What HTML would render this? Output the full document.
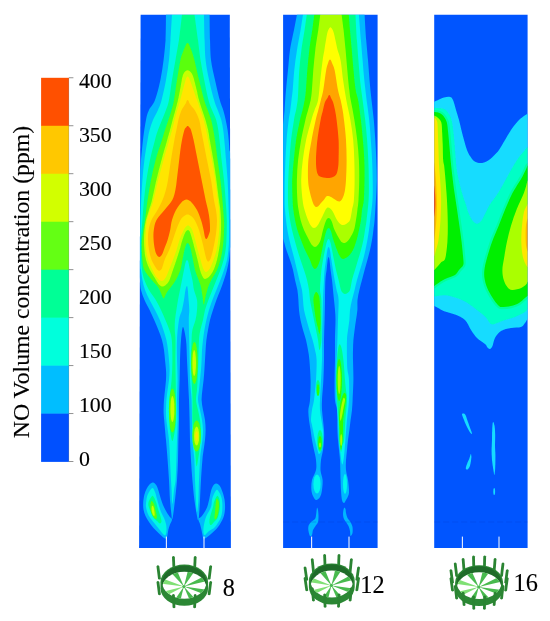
<!DOCTYPE html>
<html><head><meta charset="utf-8"><title>NO Volume concentration</title>
<style>
html,body{margin:0;padding:0;background:#fff;}
body{width:550px;height:621px;overflow:hidden;}
svg{display:block;}
text{font-family:"Liberation Serif","Times New Roman",serif;fill:#000;stroke:#000;stroke-width:0.12px;}
</style></head><body>
<svg width="550" height="621" viewBox="0 0 550 621">
<defs>
<clipPath id="c1"><polygon points="140.6,14.7 229.8,14.7 230.9,548.0 139.1,548.0"/></clipPath>
<clipPath id="c2"><rect x="283.1" y="14.7" width="94.5" height="533.3"/></clipPath>
<clipPath id="c3"><rect x="434.2" y="14.7" width="93.40000000000003" height="533.3"/></clipPath>
<filter id="bl" x="-5%" y="-5%" width="110%" height="110%"><feGaussianBlur stdDeviation="0.45"/></filter>
</defs>
<rect width="550" height="621" fill="#fff"/>

<g>
<rect x="41.1" y="77.80" width="27.8" height="48.27" fill="#ff5000"/>
<rect x="41.1" y="125.78" width="27.8" height="48.27" fill="#ffc800"/>
<rect x="41.1" y="173.75" width="27.8" height="48.27" fill="#d2ff00"/>
<rect x="41.1" y="221.73" width="27.8" height="48.27" fill="#64ff14"/>
<rect x="41.1" y="269.70" width="27.8" height="48.27" fill="#00ff96"/>
<rect x="41.1" y="317.68" width="27.8" height="48.27" fill="#00ffdc"/>
<rect x="41.1" y="365.65" width="27.8" height="48.27" fill="#00beff"/>
<rect x="41.1" y="413.62" width="27.8" height="48.27" fill="#0050ff"/>
<rect x="68.9" y="77.40" width="4.5" height="0.8" fill="#777"/>
<rect x="68.9" y="125.38" width="4.5" height="0.8" fill="#777"/>
<rect x="68.9" y="173.35" width="4.5" height="0.8" fill="#777"/>
<rect x="68.9" y="221.33" width="4.5" height="0.8" fill="#777"/>
<rect x="68.9" y="269.30" width="4.5" height="0.8" fill="#777"/>
<rect x="68.9" y="317.28" width="4.5" height="0.8" fill="#777"/>
<rect x="68.9" y="365.25" width="4.5" height="0.8" fill="#777"/>
<rect x="68.9" y="413.23" width="4.5" height="0.8" fill="#777"/>
<rect x="68.9" y="461.20" width="4.5" height="0.8" fill="#777"/>
<rect x="68.60000000000001" y="77.8" width="0.5" height="383.8" fill="#555" fill-opacity="0.45"/>
</g>
<text x="78.9" y="88.4" font-size="21.9">400</text>
<text x="78.9" y="142.4" font-size="21.9">350</text>
<text x="78.9" y="196.3" font-size="21.9">300</text>
<text x="78.9" y="250.3" font-size="21.9">250</text>
<text x="78.9" y="304.3" font-size="21.9">200</text>
<text x="78.9" y="358.3" font-size="21.9">150</text>
<text x="78.9" y="412.2" font-size="21.9">100</text>
<text x="78.9" y="466.2" font-size="21.9">0</text>
<text transform="translate(28.7,438.2) rotate(-90)" font-size="23.75">NO Volume concentration (ppm)</text>
<g clip-path="url(#c1)">
<rect x="137.1" y="12.7" width="95.80000000000001" height="537.3" fill="#0055ff"/>
<g filter="url(#bl)">
<path d="M166.0,5.0L166.0,14.4C166.0,14.4 166.0,32.4 165.6,40.0C165.3,43.3 164.5,53.3 163.6,60.0C162.7,66.7 161.8,73.3 160.4,80.0C159.0,86.7 156.9,95.0 155.0,100.0C153.1,105.0 150.5,106.7 149.0,110.0C147.5,113.3 147.0,115.0 146.0,120.0C145.0,125.0 143.8,133.3 143.0,140.0C142.2,146.7 141.5,155.0 141.0,160.0C140.5,165.0 140.2,168.3 140.0,170.0C139.5,172.5 138.0,175.0 138.0,175.0L138.0,275.0C138.0,275.0 139.5,277.5 140.0,280.0C140.2,281.7 140.2,286.7 141.0,290.0C141.8,293.3 143.1,296.7 144.5,300.0C145.9,303.3 148.0,306.7 149.6,310.0C151.2,313.3 152.7,316.7 154.2,320.0C155.7,323.3 157.1,326.7 158.4,330.0C159.7,333.3 161.1,336.7 162.0,340.0C162.9,343.3 163.5,346.7 164.0,350.0C164.5,353.3 164.7,356.7 165.0,360.0C165.3,363.3 165.8,366.7 166.0,370.0C166.2,373.3 166.2,376.7 166.0,380.0C165.8,383.3 165.3,386.7 165.0,390.0C164.7,393.3 164.2,396.7 164.0,400.0C163.8,403.3 163.6,406.7 163.6,410.0C163.6,413.3 163.8,415.0 164.2,420.0C164.6,425.0 165.4,433.3 166.0,440.0C166.6,446.7 167.1,453.3 167.6,460.0C168.1,466.7 168.6,473.3 169.0,480.0C169.4,486.7 169.6,494.0 170.0,500.0C170.4,506.0 171.3,512.8 171.6,516.0C171.9,519.2 171.8,519.0 172.0,519.0C172.2,519.0 172.5,519.2 173.0,516.0C173.5,512.8 174.3,506.0 175.0,500.0C175.7,494.0 176.5,486.7 177.0,480.0C177.5,473.3 177.8,466.7 178.0,460.0C178.2,453.3 178.2,446.7 178.4,440.0C178.6,433.3 178.9,426.7 179.0,420.0C179.1,413.3 178.9,406.7 179.0,400.0C179.1,393.3 179.4,386.7 179.6,380.0C179.8,373.3 179.8,366.7 180.0,360.0C180.2,353.3 180.5,345.5 181.0,340.0C181.5,334.5 182.2,327.0 183.0,327.0C183.8,327.0 185.3,334.5 186.0,340.0C186.7,345.5 186.7,353.3 187.0,360.0C187.3,366.7 187.7,373.3 188.0,380.0C188.3,386.7 188.7,393.3 189.0,400.0C189.3,406.7 189.4,413.3 189.6,420.0C189.8,426.7 189.8,433.3 190.0,440.0C190.2,446.7 190.6,453.3 191.0,460.0C191.4,466.7 191.8,473.3 192.4,480.0C193.0,486.7 193.6,494.0 194.4,500.0C195.2,506.0 196.4,512.7 197.0,516.0C197.6,519.3 197.7,520.0 198.0,520.0C198.3,520.0 198.7,519.3 199.0,516.0C199.3,512.7 199.7,506.0 200.0,500.0C200.3,494.0 200.6,486.7 201.0,480.0C201.4,473.3 202.0,465.0 202.4,460.0C202.8,455.0 203.2,453.3 203.6,450.0C204.0,446.7 204.7,443.3 205.0,440.0C205.3,436.7 205.6,433.3 205.6,430.0C205.6,426.7 205.4,423.3 205.0,420.0C204.6,416.7 203.6,413.3 203.0,410.0C202.4,406.7 201.7,403.3 201.6,400.0C201.5,396.7 202.1,393.3 202.4,390.0C202.7,386.7 203.3,383.3 203.6,380.0C203.9,376.7 204.2,373.3 204.4,370.0C204.6,366.7 204.8,363.3 205.0,360.0C205.2,356.7 205.4,353.3 205.6,350.0C205.8,346.7 206.0,343.3 206.4,340.0C206.8,336.7 207.4,333.3 208.0,330.0C208.6,326.7 209.2,323.3 210.0,320.0C210.8,316.7 211.9,313.3 213.0,310.0C214.1,306.7 215.2,303.3 216.4,300.0C217.6,296.7 219.1,293.3 220.4,290.0C221.7,286.7 222.9,283.3 224.0,280.0C225.1,276.7 226.2,273.3 227.0,270.0C227.8,266.7 228.5,263.3 229.0,260.0C229.5,256.7 229.8,251.7 230.0,250.0C230.5,247.5 232.0,245.0 232.0,245.0L232.0,155.0C232.0,155.0 230.0,152.5 229.4,150.0C229.3,148.3 229.0,143.3 228.7,140.0C228.4,136.7 228.1,133.3 227.6,130.0C227.1,126.7 226.4,123.3 225.7,120.0C225.0,116.7 224.2,113.3 223.2,110.0C222.3,106.7 221.1,105.0 219.8,100.0C218.4,95.0 216.5,86.7 215.0,80.0C213.5,73.3 211.8,66.7 211.0,60.0C210.2,53.3 210.2,43.3 210.0,40.0C209.8,32.4 209.6,14.4 209.6,14.4L209.6,5.0L166.0,5.0Z" fill="#00b8ff" />
<path d="M172.0,5.0L172.0,14.4C172.0,14.4 171.0,32.4 170.5,40.0C170.2,43.3 169.8,53.3 169.0,60.0C168.2,66.7 167.2,73.3 166.0,80.0C164.8,86.7 162.9,95.0 161.6,100.0C160.3,105.0 159.4,106.7 158.0,110.0C156.6,113.3 154.4,116.7 153.0,120.0C151.6,123.3 150.5,126.7 149.6,130.0C148.7,133.3 148.5,135.0 147.6,140.0C146.7,145.0 145.3,153.3 144.4,160.0C143.5,166.7 142.9,173.3 142.4,180.0C141.9,186.7 141.5,193.3 141.2,200.0C140.9,206.7 140.7,213.3 140.6,220.0C140.5,226.7 140.4,232.3 140.4,240.0C140.4,247.7 140.3,261.0 140.4,266.0C140.5,271.0 140.7,267.7 141.0,270.0C141.3,272.3 141.7,276.7 142.4,280.0C143.1,283.3 143.8,286.7 145.0,290.0C146.2,293.3 147.9,296.7 149.6,300.0C151.3,303.3 153.3,306.7 155.0,310.0C156.7,313.3 158.4,316.7 159.8,320.0C161.2,323.3 162.3,326.7 163.4,330.0C164.5,333.3 165.6,336.7 166.4,340.0C167.2,343.3 167.6,346.7 168.0,350.0C168.4,353.3 168.7,356.7 169.0,360.0C169.3,363.3 169.6,366.7 169.6,370.0C169.6,373.3 169.3,376.7 169.0,380.0C168.7,383.3 168.0,386.7 167.6,390.0C167.2,393.3 166.7,396.7 166.4,400.0C166.1,403.3 166.0,406.7 166.0,410.0C166.0,413.3 165.9,415.0 166.4,420.0C166.9,425.0 168.4,433.3 169.0,440.0C169.6,446.7 169.7,453.3 170.0,460.0C170.3,466.7 170.7,475.0 171.0,480.0C171.3,485.0 171.4,486.0 171.6,490.0C171.8,494.0 172.0,504.0 172.4,504.0C172.8,504.0 173.5,494.0 174.0,490.0C174.5,486.0 175.2,485.0 175.6,480.0C176.0,475.0 176.2,466.7 176.4,460.0C176.6,453.3 176.8,446.7 177.0,440.0C177.2,433.3 177.6,426.7 177.6,420.0C177.6,413.3 177.0,406.7 177.0,400.0C177.0,393.3 177.6,386.7 177.6,380.0C177.6,373.3 177.1,366.7 177.0,360.0C176.9,353.3 176.7,346.7 177.0,340.0C177.3,333.3 178.2,325.0 179.0,320.0C179.8,315.0 181.2,313.3 182.0,310.0C182.8,306.7 183.4,303.4 184.0,300.0C184.6,296.6 185.0,292.1 185.5,289.8C186.0,287.4 186.6,286.0 187.0,286.0C187.4,286.0 187.5,287.4 187.8,289.8C188.1,292.1 188.3,296.6 188.6,300.0C188.8,303.4 189.3,306.7 189.3,310.0C189.3,313.3 188.8,315.0 188.8,320.0C188.8,325.0 189.1,333.3 189.2,340.0C189.3,346.7 189.5,353.3 189.6,360.0C189.7,366.7 189.7,373.3 190.0,380.0C190.3,386.7 191.3,393.3 191.6,400.0C191.9,406.7 191.9,413.3 192.0,420.0C192.1,426.7 192.0,433.3 192.4,440.0C192.8,446.7 194.0,453.3 194.4,460.0C194.8,466.7 194.7,473.3 195.0,480.0C195.3,486.7 195.7,494.7 196.0,500.0C196.3,505.3 196.6,512.0 197.0,512.0C197.4,512.0 198.1,505.3 198.4,500.0C198.7,494.7 198.7,486.7 199.0,480.0C199.3,473.3 199.7,465.0 200.0,460.0C200.3,455.0 200.6,453.3 201.0,450.0C201.4,446.7 202.1,443.3 202.4,440.0C202.7,436.7 203.1,433.3 203.0,430.0C202.9,426.7 202.5,423.3 202.0,420.0C201.5,416.7 200.7,413.3 200.0,410.0C199.3,406.7 198.2,403.3 198.0,400.0C197.8,396.7 198.7,393.3 199.0,390.0C199.3,386.7 199.7,383.3 200.0,380.0C200.3,376.7 200.7,373.3 201.0,370.0C201.3,366.7 201.4,363.3 201.6,360.0C201.8,356.7 201.8,353.3 202.0,350.0C202.2,346.7 202.6,343.3 203.0,340.0C203.4,336.7 203.8,333.3 204.4,330.0C205.0,326.7 205.6,323.3 206.4,320.0C207.2,316.7 208.0,313.3 209.0,310.0C210.0,306.7 211.2,303.3 212.4,300.0C213.6,296.7 215.1,293.3 216.4,290.0C217.7,286.7 219.1,283.3 220.4,280.0C221.7,276.7 222.9,273.3 224.0,270.0C225.1,266.7 226.3,263.3 227.0,260.0C227.7,256.7 228.1,253.3 228.4,250.0C228.7,246.7 228.9,245.0 229.0,240.0C229.1,235.0 229.1,226.7 229.0,220.0C228.9,213.3 228.6,206.7 228.4,200.0C228.2,193.3 228.0,186.7 227.6,180.0C227.2,173.3 226.5,166.7 226.0,160.0C225.5,153.3 224.8,145.0 224.3,140.0C223.9,135.0 223.7,133.3 223.2,130.0C222.7,126.7 222.2,123.3 221.3,120.0C220.4,116.7 218.9,113.3 217.7,110.0C216.5,106.7 215.5,105.0 214.1,100.0C212.7,95.0 210.5,86.7 209.1,80.0C207.6,73.3 206.3,66.7 205.6,60.0C204.9,53.3 204.8,43.3 204.6,40.0C204.3,32.4 204.0,14.4 204.0,14.4L204.0,5.0L172.0,5.0Z" fill="#00f8e6" />
<path d="M182.0,5.0L182.0,14.4C182.0,14.4 180.1,32.4 179.0,40.0C178.4,43.3 176.7,53.3 175.5,60.0C174.3,66.7 173.1,73.3 172.0,80.0C170.9,86.7 170.0,95.0 169.0,100.0C168.0,105.0 167.2,106.7 166.0,110.0C164.8,113.3 163.3,116.7 162.0,120.0C160.7,123.3 159.2,126.7 158.0,130.0C156.8,133.3 156.3,135.0 155.0,140.0C153.7,145.0 151.4,153.3 150.0,160.0C148.6,166.7 147.4,173.3 146.4,180.0C145.4,186.7 144.7,193.3 144.0,200.0C143.3,206.7 142.9,213.3 142.4,220.0C141.9,226.7 141.2,234.2 141.0,240.0C140.8,245.8 140.8,250.0 141.0,255.0C141.2,260.0 141.4,265.8 142.0,270.0C142.6,274.2 143.2,276.7 144.4,280.0C145.6,283.3 147.1,286.7 149.0,290.0C150.9,293.3 153.8,296.7 155.8,300.0C157.8,303.3 159.4,306.7 161.0,310.0C162.6,313.3 164.0,316.7 165.4,320.0C166.8,323.3 168.3,326.7 169.4,330.0C170.5,333.3 171.3,335.0 171.8,340.0C172.3,345.0 172.4,353.3 172.4,360.0C172.4,366.7 172.1,373.3 171.6,380.0C171.1,386.7 169.8,393.3 169.5,400.0C169.2,406.7 169.5,415.0 169.6,420.0C169.7,425.0 169.5,426.5 170.0,430.0C170.5,433.5 171.6,441.0 172.4,441.0C173.2,441.0 174.4,433.5 175.0,430.0C175.6,426.5 175.8,425.0 176.0,420.0C176.2,415.0 176.1,406.7 176.0,400.0C175.9,393.3 175.8,386.7 175.7,380.0C175.6,373.3 175.4,366.7 175.4,360.0C175.4,353.3 175.6,345.0 175.5,340.0C175.4,335.0 174.9,333.3 174.8,330.0C174.7,326.7 174.7,323.3 175.0,320.0C175.3,316.7 175.9,313.3 176.4,310.0C176.9,306.7 177.4,303.3 178.0,300.0C178.6,296.7 179.3,293.3 180.0,290.0C180.7,286.7 181.3,283.3 182.0,280.0C182.7,276.7 183.4,272.9 184.0,270.0C184.6,267.1 185.0,264.4 185.5,262.7C186.0,261.0 186.5,260.0 187.0,260.0C187.5,260.0 188.0,261.0 188.5,262.7C189.0,264.4 189.3,267.1 190.0,270.0C190.7,272.9 191.7,276.7 192.4,280.0C193.1,283.3 193.2,286.7 194.0,290.0C194.8,293.3 196.5,296.7 197.0,300.0C197.5,303.3 197.2,306.7 197.0,310.0C196.8,313.3 196.3,316.7 195.5,320.0C194.7,323.3 193.1,326.7 192.4,330.0C191.8,333.3 191.8,335.0 191.6,340.0C191.4,345.0 191.0,353.3 191.0,360.0C191.0,366.7 191.3,373.3 191.6,380.0C191.8,386.7 192.4,393.3 192.5,400.0C192.6,406.7 192.3,415.0 192.4,420.0C192.5,425.0 192.7,426.7 193.0,430.0C193.3,433.3 193.7,436.7 194.0,440.0C194.3,443.3 194.6,445.7 195.0,450.0C195.4,454.3 196.0,464.3 196.5,466.0C197.0,467.7 197.5,462.7 198.0,460.0C198.5,457.3 199.1,453.3 199.5,450.0C199.9,446.7 200.2,443.3 200.5,440.0C200.8,436.7 201.1,433.3 201.0,430.0C200.9,426.7 200.5,423.3 200.0,420.0C199.5,416.7 198.7,413.3 198.0,410.0C197.3,406.7 196.2,403.3 196.0,400.0C195.8,396.7 196.7,393.3 197.0,390.0C197.3,386.7 197.4,385.0 197.6,380.0C197.8,375.0 198.2,366.7 198.4,360.0C198.6,353.3 198.7,345.0 199.0,340.0C199.3,335.0 199.7,333.3 200.4,330.0C201.1,326.7 202.2,323.3 203.0,320.0C203.8,316.7 204.1,313.3 205.0,310.0C205.9,306.7 207.2,303.3 208.4,300.0C209.6,296.7 211.1,293.3 212.4,290.0C213.7,286.7 215.1,283.3 216.4,280.0C217.7,276.7 219.2,273.3 220.4,270.0C221.6,266.7 222.7,263.3 223.6,260.0C224.5,256.7 225.1,253.3 225.6,250.0C226.1,246.7 226.2,245.0 226.4,240.0C226.6,235.0 226.9,226.7 226.8,220.0C226.7,213.3 226.1,206.7 225.6,200.0C225.1,193.3 224.7,186.7 224.0,180.0C223.3,173.3 222.3,166.7 221.6,160.0C220.9,153.3 220.1,145.0 219.5,140.0C219.0,135.0 218.8,133.3 218.3,130.0C217.7,126.7 217.2,123.3 216.2,120.0C215.2,116.7 213.3,113.3 212.0,110.0C210.7,106.7 209.8,105.0 208.5,100.0C207.2,95.0 205.5,86.7 204.2,80.0C202.9,73.3 201.5,66.7 200.5,60.0C199.5,53.3 198.4,43.3 198.0,40.0C197.0,32.4 194.5,14.4 194.5,14.4L194.5,5.0L182.0,5.0Z" fill="#00ff8a" />
<path d="M188.8,44.1C188.4,43.4 188.0,43.0 187.6,43.0C187.2,43.0 186.7,43.4 186.3,44.1C185.9,44.7 185.6,45.7 185.0,47.0C184.4,48.3 183.8,49.8 183.0,52.0C182.2,54.2 181.4,55.3 180.4,60.0C179.4,64.7 178.1,73.3 177.0,80.0C175.9,86.7 174.9,95.0 174.0,100.0C173.1,105.0 172.5,106.7 171.6,110.0C170.7,113.3 169.5,116.7 168.4,120.0C167.3,123.3 166.1,126.7 165.0,130.0C163.9,133.3 163.6,135.0 162.0,140.0C160.4,145.0 157.4,153.3 155.6,160.0C153.8,166.7 152.3,173.3 151.0,180.0C149.7,186.7 148.6,193.3 147.6,200.0C146.6,206.7 145.8,214.2 145.0,220.0C144.2,225.8 143.1,230.8 142.6,235.0C142.1,239.2 141.8,240.8 141.8,245.0C141.8,249.2 142.0,255.8 142.4,260.0C142.8,264.2 142.8,266.7 144.4,270.0C146.0,273.3 149.5,277.2 151.8,280.0C154.1,282.8 156.5,284.8 158.0,287.0C159.5,289.2 160.1,291.1 161.0,293.0C161.9,294.9 162.8,298.3 163.7,298.3C164.6,298.3 165.3,294.9 166.5,293.0C167.7,291.1 169.4,289.2 171.0,287.0C172.6,284.8 174.2,282.8 175.8,280.0C177.4,277.2 179.3,273.3 180.4,270.0C181.5,266.7 181.7,263.3 182.4,260.0C183.1,256.7 183.8,252.5 184.4,250.0C185.0,247.5 185.5,246.1 186.0,244.9C186.5,243.7 187.0,243.0 187.6,243.0C188.2,243.0 188.7,243.7 189.3,244.9C189.9,246.1 190.4,247.5 191.0,250.0C191.6,252.5 192.3,256.7 193.0,260.0C193.7,263.3 194.1,266.7 195.0,270.0C195.9,273.3 197.7,277.2 198.7,280.0C199.7,282.8 200.4,284.3 201.0,287.0C201.6,289.7 202.0,293.1 202.5,296.0C203.0,298.9 203.3,304.3 203.8,304.5C204.3,304.7 204.8,299.9 205.5,297.0C206.2,294.1 207.2,289.8 208.2,287.0C209.2,284.2 209.8,282.8 211.3,280.0C212.8,277.2 215.5,273.3 217.0,270.0C218.5,266.7 219.5,263.3 220.4,260.0C221.3,256.7 221.9,253.3 222.4,250.0C222.9,246.7 223.3,243.3 223.6,240.0C223.9,236.7 223.9,233.3 224.0,230.0C224.1,226.7 224.3,225.0 224.0,220.0C223.7,215.0 223.0,206.7 222.4,200.0C221.8,193.3 221.2,186.7 220.4,180.0C219.6,173.3 218.5,166.7 217.6,160.0C216.7,153.3 215.7,145.0 215.0,140.0C214.3,135.0 213.9,133.3 213.3,130.0C212.7,126.7 212.1,123.3 211.2,120.0C210.3,116.7 208.8,113.3 207.7,110.0C206.5,106.7 205.6,105.0 204.1,100.0C202.7,95.0 200.7,86.7 199.1,80.0C197.4,73.3 195.6,64.7 194.4,60.0C193.2,55.3 192.7,54.2 192.0,52.0C191.3,49.8 190.5,48.3 190.0,47.0C189.5,45.7 189.2,44.7 188.8,44.1Z" fill="#5aff0a" />
<path d="M187.6,70.3C186.9,70.3 186.1,70.7 185.4,71.2C184.7,71.7 184.1,72.5 183.6,73.5C183.1,74.5 182.8,75.6 182.4,77.0C182.0,78.4 181.8,79.8 181.4,82.0C181.0,84.2 180.6,87.0 180.0,90.0C179.4,93.0 178.8,96.7 178.0,100.0C177.2,103.3 176.3,106.7 175.4,110.0C174.5,113.3 173.5,116.7 172.6,120.0C171.7,123.3 170.9,126.7 170.0,130.0C169.1,133.3 168.6,135.0 167.2,140.0C165.8,145.0 163.3,153.3 161.5,160.0C159.7,166.7 158.0,173.3 156.4,180.0C154.8,186.7 153.2,195.0 152.0,200.0C150.8,205.0 150.0,206.7 149.0,210.0C148.0,213.3 146.8,216.7 146.0,220.0C145.2,223.3 144.7,226.7 144.4,230.0C144.1,233.3 144.0,236.7 144.0,240.0C144.0,243.3 144.1,246.7 144.4,250.0C144.7,253.3 145.1,256.7 146.0,260.0C146.9,263.3 148.3,266.7 150.0,270.0C151.7,273.3 154.5,277.5 156.0,280.0C157.5,282.5 158.2,283.7 159.2,284.7C160.3,285.8 161.4,286.5 162.5,286.5C163.6,286.5 164.8,285.8 166.0,284.7C167.2,283.7 168.3,282.5 169.5,280.0C170.7,277.5 171.8,273.3 173.0,270.0C174.2,266.7 175.3,263.3 176.4,260.0C177.5,256.7 178.6,253.3 179.6,250.0C180.6,246.7 181.5,242.9 182.4,240.0C183.3,237.1 184.3,234.4 185.2,232.7C186.1,231.0 187.2,230.0 188.0,230.0C188.8,230.0 189.5,231.0 190.2,232.7C190.9,234.4 191.6,237.1 192.4,240.0C193.2,242.9 194.1,246.7 195.0,250.0C195.9,253.3 196.8,256.7 197.6,260.0C198.4,263.3 199.2,267.2 200.0,270.0C200.8,272.8 201.7,275.1 202.5,276.6C203.3,278.1 203.9,279.0 205.0,279.0C206.1,279.0 207.9,278.1 209.3,276.6C210.7,275.1 212.3,272.8 213.6,270.0C214.9,267.2 216.1,263.3 217.0,260.0C217.9,256.7 218.4,253.3 219.0,250.0C219.6,246.7 220.1,243.3 220.4,240.0C220.7,236.7 220.9,233.3 221.0,230.0C221.1,226.7 221.1,223.3 221.0,220.0C220.9,216.7 220.7,213.3 220.4,210.0C220.1,206.7 219.7,205.0 219.0,200.0C218.3,195.0 217.3,186.7 216.4,180.0C215.5,173.3 214.5,166.7 213.4,160.0C212.3,153.3 210.7,145.0 209.8,140.0C209.0,135.0 208.8,133.3 208.1,130.0C207.3,126.7 206.5,123.3 205.5,120.0C204.5,116.7 203.3,113.3 202.2,110.0C201.2,106.7 199.9,103.3 199.0,100.0C198.1,96.7 197.4,93.0 196.7,90.0C196.0,87.0 195.3,84.2 194.7,82.0C194.2,79.8 193.8,78.4 193.3,77.0C192.8,75.6 192.4,74.5 191.8,73.5C191.2,72.5 190.5,71.7 189.8,71.2C189.1,70.7 188.3,70.3 187.6,70.3Z" fill="#c8ff00" />
<path d="M188.9,77.7C188.5,77.0 188.0,76.5 187.6,76.5C187.2,76.5 186.8,77.0 186.4,77.7C186.1,78.5 186.3,77.3 185.3,81.0C184.3,84.7 181.6,95.2 180.3,100.0C179.0,104.8 178.2,106.7 177.3,110.0C176.4,113.3 175.5,116.7 174.6,120.0C173.7,123.3 173.0,126.7 172.1,130.0C171.2,133.3 170.7,135.0 169.3,140.0C167.9,145.0 165.4,153.3 163.6,160.0C161.8,166.7 159.9,173.3 158.2,180.0C156.5,186.7 154.9,195.0 153.6,200.0C152.3,205.0 151.3,206.7 150.2,210.0C149.1,213.3 147.7,216.7 147.0,220.0C146.3,223.3 146.2,226.7 146.0,230.0C145.8,233.3 145.6,236.7 145.6,240.0C145.6,243.3 145.8,246.7 146.2,250.0C146.6,253.3 147.1,256.7 148.2,260.0C149.2,263.3 151.0,267.0 152.5,270.0C154.0,273.0 155.6,276.2 157.2,278.0C158.7,279.9 160.4,281.0 161.8,281.0C163.2,281.0 164.2,279.9 165.4,278.0C166.6,276.2 167.8,273.0 169.0,270.0C170.2,267.0 171.7,263.3 172.9,260.0C174.2,256.7 175.4,253.3 176.5,250.0C177.6,246.7 178.4,243.2 179.5,240.0C180.6,236.8 182.3,233.2 183.3,231.0C184.3,228.8 184.9,227.9 185.7,227.0C186.4,226.1 187.2,225.5 188.0,225.5C188.8,225.5 189.5,226.1 190.3,227.0C191.1,227.9 191.8,228.8 192.6,231.0C193.4,233.2 194.3,236.8 195.2,240.0C196.1,243.2 196.9,246.7 197.8,250.0C198.7,253.3 199.7,256.9 200.6,260.0C201.5,263.1 202.4,266.8 203.3,268.8C204.2,270.8 204.9,272.0 206.0,272.0C207.1,272.0 208.5,270.8 209.7,268.8C210.9,266.8 212.2,263.1 213.4,260.0C214.6,256.9 215.8,253.3 216.6,250.0C217.4,246.7 217.8,243.3 218.2,240.0C218.6,236.7 219.0,233.3 219.2,230.0C219.4,226.7 219.4,223.3 219.4,220.0C219.4,216.7 219.5,213.3 219.2,210.0C218.9,206.7 218.5,205.0 217.8,200.0C217.1,195.0 216.2,186.7 215.2,180.0C214.2,173.3 213.0,166.7 211.8,160.0C210.6,153.3 209.0,145.0 208.0,140.0C207.1,135.0 206.8,133.3 206.1,130.0C205.3,126.7 204.6,123.3 203.7,120.0C202.8,116.7 201.6,113.3 200.4,110.0C199.3,106.7 198.7,104.8 197.0,100.0C195.3,95.2 191.6,84.7 190.3,81.0C188.9,77.3 189.4,78.5 188.9,77.7Z" fill="#ffe600" />
<path d="M188.6,100.9C188.3,100.4 187.9,100.0 187.6,100.0C187.3,100.0 187.0,100.4 186.6,100.9C186.3,101.5 186.2,102.5 185.7,103.5C185.2,104.5 184.3,105.5 183.6,106.7C182.9,107.9 182.3,108.3 181.4,110.5C180.5,112.7 179.2,116.8 178.4,120.0C177.6,123.2 177.1,126.7 176.4,130.0C175.7,133.3 175.3,135.0 174.4,140.0C173.5,145.0 172.1,153.3 171.0,160.0C169.9,166.7 168.9,174.8 168.0,180.0C167.1,185.2 166.5,187.7 165.6,191.0C164.7,194.3 163.8,196.8 162.5,200.0C161.2,203.2 159.3,206.7 157.5,210.0C155.7,213.3 153.0,216.7 151.5,220.0C150.0,223.3 149.2,226.7 148.6,230.0C148.0,233.3 147.9,236.7 148.0,240.0C148.1,243.3 148.4,246.7 149.0,250.0C149.6,253.3 150.4,257.0 151.6,260.0C152.8,263.0 155.0,266.3 156.0,268.0C157.0,269.7 157.2,269.6 157.8,270.0C158.3,270.5 158.8,271.2 159.5,270.8C160.2,270.4 161.2,269.7 162.1,267.9C162.9,266.1 163.4,263.0 164.6,260.0C165.8,257.0 167.8,253.3 169.2,250.0C170.6,246.7 171.6,243.3 172.8,240.0C174.0,236.7 174.9,233.3 176.2,230.0C177.5,226.7 179.2,222.3 180.5,220.0C181.8,217.7 182.9,217.0 184.1,216.1C185.2,215.2 186.4,214.6 187.6,214.6C188.8,214.6 189.9,215.2 191.1,216.1C192.3,217.0 193.3,217.7 194.6,220.0C195.9,222.3 197.8,226.7 199.0,230.0C200.2,233.3 200.9,236.7 201.8,240.0C202.7,243.3 203.5,246.9 204.2,250.0C204.9,253.1 205.6,256.5 206.2,258.4C206.9,260.3 207.6,261.5 208.3,261.5C209.0,261.5 209.9,260.3 210.7,258.4C211.4,256.5 212.3,253.1 213.0,250.0C213.7,246.9 214.4,243.3 215.0,240.0C215.6,236.7 216.1,233.3 216.4,230.0C216.7,226.7 217.1,223.3 217.0,220.0C216.9,216.7 216.5,213.3 216.0,210.0C215.5,206.7 214.8,205.0 214.0,200.0C213.2,195.0 212.2,186.7 211.0,180.0C209.8,173.3 208.3,166.7 207.0,160.0C205.7,153.3 204.1,145.0 203.1,140.0C202.1,135.0 201.8,133.3 201.1,130.0C200.5,126.7 200.2,123.2 199.2,120.0C198.2,116.8 196.2,112.7 195.0,110.5C193.8,108.3 192.9,107.9 192.0,106.7C191.1,105.5 190.2,104.5 189.6,103.5C189.0,102.5 188.9,101.5 188.6,100.9Z" fill="#ffc400" />
<path d="M188.6,126.4C188.2,126.2 187.9,126.0 187.6,126.0C187.3,126.0 187.1,126.2 186.8,126.4C186.5,126.7 186.4,126.9 186.0,127.5C185.6,128.1 185.1,127.9 184.4,130.0C183.7,132.1 182.7,136.7 182.0,140.0C181.3,143.3 180.9,146.7 180.4,150.0C179.9,153.3 179.6,156.7 179.2,160.0C178.8,163.3 178.4,166.7 178.0,170.0C177.6,173.3 177.2,176.7 176.8,180.0C176.4,183.3 176.2,186.7 175.4,190.0C174.7,193.3 174.1,196.7 172.3,200.0C170.5,203.3 167.1,206.7 164.5,210.0C161.9,213.3 158.3,216.7 156.5,220.0C154.7,223.3 154.3,226.7 153.8,230.0C153.3,233.3 153.4,236.8 153.6,240.0C153.8,243.2 154.3,246.6 154.8,249.0C155.3,251.4 155.8,253.2 156.6,254.5C157.3,255.8 158.4,257.0 159.3,257.0C160.2,257.0 161.2,255.8 162.0,254.5C162.8,253.2 163.3,251.4 164.2,249.0C165.1,246.6 166.6,243.2 167.6,240.0C168.6,236.8 169.5,233.3 170.2,230.0C170.9,226.7 171.0,223.3 172.0,220.0C173.0,216.7 174.5,212.8 176.0,210.0C177.5,207.2 179.7,204.6 181.0,203.0C182.3,201.4 182.8,201.1 183.8,200.5C184.7,200.0 185.6,199.6 186.5,199.6C187.4,199.6 188.3,200.0 189.2,200.5C190.2,201.1 190.7,201.4 192.0,203.0C193.3,204.6 195.5,207.2 197.0,210.0C198.5,212.8 199.9,216.7 201.0,220.0C202.1,223.3 203.0,227.2 203.6,230.0C204.2,232.8 204.4,235.1 204.8,236.6C205.2,238.1 205.6,238.8 206.0,239.0C206.4,239.2 207.0,238.5 207.5,237.7C208.0,236.8 208.6,235.3 209.0,234.0C209.4,232.7 209.9,232.3 210.0,230.0C210.1,227.7 209.9,223.3 209.6,220.0C209.3,216.7 208.7,213.3 208.0,210.0C207.3,206.7 206.3,203.3 205.6,200.0C204.9,196.7 204.3,193.3 203.6,190.0C202.9,186.7 202.3,183.3 201.6,180.0C200.9,176.7 200.3,173.3 199.6,170.0C198.9,166.7 198.3,163.3 197.6,160.0C196.9,156.7 196.3,153.3 195.6,150.0C194.9,146.7 194.4,143.3 193.6,140.0C192.8,136.7 191.7,132.1 191.0,130.0C190.3,127.9 189.9,128.1 189.5,127.5C189.1,126.9 188.9,126.7 188.6,126.4Z" fill="#ff5500" />
<ellipse cx="172.4" cy="410.5" rx="3.5" ry="22" fill="#5aff0a"/>
<ellipse cx="172.4" cy="409" rx="2.0" ry="13" fill="#c8ff00"/>
<ellipse cx="194.4" cy="363" rx="3.3" ry="21" fill="#5aff0a"/>
<ellipse cx="194.2" cy="363" rx="1.8" ry="13" fill="#c8ff00"/>
<ellipse cx="196.6" cy="436" rx="4.3" ry="15.5" fill="#5aff0a"/>
<ellipse cx="196.6" cy="436" rx="2.6" ry="9.5" fill="#c8ff00"/>
<ellipse cx="196.6" cy="436" rx="1.3" ry="4.5" fill="#ffe600"/>
<path d="M153.0,482.5C151.8,482.3 150.6,483.4 149.5,484.5C148.4,485.6 147.4,487.2 146.5,489.0C145.6,490.8 144.9,492.7 144.3,495.0C143.8,497.3 143.3,500.5 143.2,503.0C143.1,505.5 143.2,507.8 143.6,510.0C144.0,512.2 144.6,514.0 145.5,516.0C146.4,518.0 147.7,520.0 149.0,522.0C150.3,524.0 151.8,526.1 153.5,528.0C155.2,529.9 157.2,531.8 159.0,533.5C160.8,535.2 162.8,537.2 164.0,538.0C165.2,538.8 165.9,539.0 166.5,538.5C167.1,538.0 167.2,536.4 167.5,535.0C167.8,533.6 167.9,531.8 168.3,530.0C168.7,528.2 169.4,526.2 170.0,524.5C170.6,522.8 172.1,520.8 172.0,519.5C171.9,518.2 170.5,517.9 169.5,516.5C168.5,515.1 167.1,512.9 166.0,511.0C164.9,509.1 163.9,507.2 163.0,505.0C162.1,502.8 161.3,500.3 160.6,498.0C159.9,495.7 159.3,493.1 158.6,491.0C157.9,488.9 157.4,486.9 156.5,485.5C155.6,484.1 154.2,482.7 153.0,482.5Z" fill="#00b8ff" />
<path d="M152.4,488.0C151.2,488.3 149.0,492.0 148.0,494.0C147.0,496.0 146.7,497.8 146.4,500.0C146.1,502.2 145.7,504.7 146.0,507.0C146.3,509.3 147.2,512.0 148.0,514.0C148.8,516.0 149.8,517.3 151.0,519.0C152.2,520.7 153.7,522.3 155.0,524.0C156.3,525.7 157.7,527.3 159.0,529.0C160.3,530.7 161.9,533.0 163.0,534.0C164.1,535.0 164.9,535.7 165.5,535.0C166.1,534.3 166.4,531.8 166.5,530.0C166.6,528.2 166.4,526.0 166.0,524.0C165.6,522.0 164.8,520.0 164.0,518.0C163.2,516.0 161.8,514.0 161.0,512.0C160.2,510.0 159.7,508.2 159.0,506.0C158.3,503.8 157.7,501.3 157.0,499.0C156.3,496.7 155.8,493.8 155.0,492.0C154.2,490.2 153.6,487.7 152.4,488.0Z" fill="#00f8e6" />
<path d="M152.0,496.0C151.1,496.9 148.8,500.8 148.4,503.0C148.0,505.2 148.8,506.7 149.6,509.0C150.4,511.3 151.8,515.0 153.0,517.0C154.2,519.0 155.8,519.9 157.0,521.0C158.2,522.1 159.2,523.5 160.0,523.5C160.8,523.5 161.5,522.4 161.5,521.0C161.5,519.6 160.6,517.0 160.0,515.0C159.4,513.0 158.7,511.2 158.0,509.0C157.3,506.8 156.7,503.9 156.0,502.0C155.3,500.1 154.7,498.5 154.0,497.5C153.3,496.5 152.9,495.1 152.0,496.0Z" fill="#00ff8a" />
<path d="M151.5,501.0C150.9,501.3 150.4,504.2 150.3,506.0C150.2,507.8 150.5,510.2 151.0,512.0C151.5,513.8 152.7,515.8 153.5,517.0C154.3,518.2 155.4,519.2 156.0,519.0C156.6,518.8 156.9,517.5 156.8,516.0C156.7,514.5 156.0,512.0 155.5,510.0C155.0,508.0 154.7,505.5 154.0,504.0C153.3,502.5 152.1,500.7 151.5,501.0Z" fill="#5aff0a" />
<path d="M152.0,506.0C151.7,506.6 151.4,508.5 151.6,510.0C151.8,511.5 152.5,514.1 153.0,515.0C153.5,515.9 154.4,516.2 154.6,515.5C154.8,514.8 154.6,512.5 154.4,511.0C154.2,509.5 153.7,507.3 153.3,506.5C152.9,505.7 152.3,505.4 152.0,506.0Z" fill="#c8ff00" />
<path d="M216.0,483.5C214.9,483.6 213.8,484.8 213.0,486.0C212.2,487.2 211.6,489.0 211.0,491.0C210.4,493.0 210.1,495.3 209.5,498.0C208.9,500.7 208.1,504.5 207.2,507.0C206.3,509.5 205.0,511.3 204.0,513.0C203.0,514.7 201.9,516.0 201.0,517.0C200.1,518.0 198.5,517.8 198.3,519.0C198.1,520.2 199.5,522.2 200.0,524.0C200.5,525.8 201.1,528.2 201.5,530.0C201.9,531.8 202.2,533.6 202.5,535.0C202.8,536.4 202.9,538.0 203.5,538.5C204.1,539.0 204.8,538.8 206.0,538.0C207.2,537.2 209.0,535.8 211.0,534.0C213.0,532.2 216.0,529.7 218.0,527.0C220.0,524.3 222.0,521.0 223.2,518.0C224.4,515.0 224.8,512.0 225.0,509.0C225.2,506.0 225.0,502.8 224.6,500.0C224.2,497.2 223.3,494.4 222.5,492.0C221.7,489.6 220.6,486.9 219.5,485.5C218.4,484.1 217.1,483.4 216.0,483.5Z" fill="#00b8ff" />
<path d="M216.4,490.0C215.3,491.0 213.3,495.2 212.4,498.0C211.5,500.8 212.1,503.8 211.0,507.0C209.9,510.2 207.2,513.7 206.0,517.0C204.8,520.3 204.0,524.3 203.6,527.0C203.2,529.7 203.3,531.7 203.5,533.0C203.7,534.3 204.1,535.3 205.0,535.0C205.9,534.7 207.3,532.3 209.0,531.0C210.7,529.7 213.0,529.3 215.0,527.0C217.0,524.7 219.8,520.3 221.0,517.0C222.2,513.7 222.3,510.2 222.4,507.0C222.5,503.8 222.2,500.5 221.6,498.0C221.0,495.5 219.9,493.3 219.0,492.0C218.1,490.7 217.5,489.0 216.4,490.0Z" fill="#00f8e6" />
<path d="M217.0,496.0C216.2,496.8 214.7,500.2 214.0,502.0C213.3,503.8 213.7,504.5 213.0,507.0C212.3,509.5 210.6,514.3 210.0,517.0C209.4,519.7 209.3,521.7 209.5,523.0C209.7,524.3 210.2,525.2 211.0,525.0C211.8,524.8 212.8,523.3 214.0,522.0C215.2,520.7 217.0,519.5 218.0,517.0C219.0,514.5 219.7,509.8 220.0,507.0C220.3,504.2 219.8,501.7 219.6,500.0C219.3,498.3 218.9,497.7 218.5,497.0C218.1,496.3 217.8,495.2 217.0,496.0Z" fill="#00ff8a" />
<path d="M216.5,499.0C216.0,499.7 215.8,502.8 215.6,505.0C215.3,507.2 215.2,509.8 215.0,512.0C214.8,514.2 214.3,516.8 214.5,518.0C214.7,519.2 215.4,519.7 216.0,519.0C216.6,518.3 217.5,516.0 218.0,514.0C218.5,512.0 218.9,509.2 219.0,507.0C219.1,504.8 219.0,502.3 218.6,501.0C218.2,499.7 217.0,498.3 216.5,499.0Z" fill="#5aff0a" />
</g></g>
<g clip-path="url(#c2)">
<rect x="281.1" y="12.7" width="98.5" height="537.3" fill="#0055ff"/>
<g filter="url(#bl)">
<path d="M297.0,5.0L297.0,14.4C297.0,14.4 295.2,24.1 294.0,30.0C293.3,33.3 291.0,43.3 290.0,50.0C289.0,56.7 288.7,63.3 288.0,70.0C287.3,76.7 286.6,83.3 286.0,90.0C285.4,96.7 284.8,106.7 284.6,110.0C284.1,115.8 283.0,125.0 283.0,125.0L281.0,130.0L281.0,235.0L283.0,238.5C283.0,238.5 283.8,241.1 284.4,243.0C284.7,244.2 285.5,247.2 286.4,250.0C287.3,252.8 288.9,256.7 290.0,260.0C291.1,263.3 292.2,266.7 293.0,270.0C293.8,273.3 294.3,276.7 295.0,280.0C295.7,283.3 296.8,286.7 297.4,290.0C298.0,293.3 298.1,296.7 298.4,300.0C298.7,303.3 298.6,306.7 299.0,310.0C299.4,313.3 299.8,316.7 300.5,320.0C301.2,323.3 302.1,326.7 303.0,330.0C303.9,333.3 305.2,336.7 306.0,340.0C306.8,343.3 307.4,346.7 308.0,350.0C308.6,353.3 309.0,355.0 309.4,360.0C309.8,365.0 310.5,373.3 310.6,380.0C310.7,386.7 310.4,395.0 310.0,400.0C309.6,405.0 308.6,406.7 308.4,410.0C308.2,413.3 308.6,416.7 309.0,420.0C309.4,423.3 310.1,426.7 310.6,430.0C311.1,433.3 311.4,436.7 312.0,440.0C312.6,443.3 313.3,446.7 314.0,450.0C314.7,453.3 315.7,456.7 316.0,460.0C316.3,463.3 316.7,466.7 316.0,470.0C315.3,473.3 312.8,476.7 312.0,480.0C311.2,483.3 311.2,487.3 311.4,490.0C311.6,492.7 312.2,494.3 313.0,496.0C313.8,497.7 314.8,499.8 316.0,500.0C317.2,500.2 319.0,498.7 320.0,497.0C321.0,495.3 321.6,492.8 322.0,490.0C322.4,487.2 322.8,483.2 322.6,480.0C322.4,476.8 320.9,474.3 320.6,471.0C320.3,467.7 320.6,463.5 321.0,460.0C321.4,456.5 322.5,453.3 323.0,450.0C323.5,446.7 323.8,443.3 324.0,440.0C324.2,436.7 324.2,433.3 324.0,430.0C323.8,426.7 323.3,423.3 323.0,420.0C322.7,416.7 322.2,413.3 322.0,410.0C321.8,406.7 321.8,405.0 322.0,400.0C322.2,395.0 323.1,386.7 323.4,380.0C323.7,373.3 323.9,366.7 324.0,360.0C324.1,353.3 323.9,346.7 324.0,340.0C324.1,333.3 324.4,326.7 324.6,320.0C324.8,313.3 324.9,306.7 325.0,300.0C325.1,293.3 325.1,285.0 325.4,280.0C325.7,275.0 326.2,273.2 326.6,270.0C327.0,266.8 327.3,262.7 327.6,260.5C327.9,258.3 328.3,257.0 328.6,257.0C328.9,257.0 329.3,258.3 329.6,260.5C329.9,262.7 330.2,266.8 330.6,270.0C331.0,273.2 331.6,276.7 332.0,280.0C332.4,283.3 332.7,286.7 333.0,290.0C333.3,293.3 333.7,296.7 334.0,300.0C334.3,303.3 334.8,306.7 335.0,310.0C335.2,313.3 335.5,315.0 335.5,320.0C335.5,325.0 335.1,333.3 335.0,340.0C334.9,346.7 335.1,353.3 335.0,360.0C334.9,366.7 334.6,373.3 334.6,380.0C334.6,386.7 334.6,395.0 335.0,400.0C335.4,405.0 336.6,405.0 337.0,410.0C337.4,415.0 337.2,425.0 337.4,430.0C337.6,435.0 337.7,436.7 338.0,440.0C338.3,443.3 338.7,446.7 339.0,450.0C339.3,453.3 339.7,455.0 340.0,460.0C340.3,465.0 340.4,475.0 340.6,480.0C340.8,485.0 340.8,486.7 341.0,490.0C341.2,493.3 341.5,497.8 342.0,500.0C342.5,502.2 343.3,503.0 344.0,503.0C344.7,503.0 345.2,501.3 346.0,500.0C346.8,498.7 348.0,496.7 348.5,495.0C349.0,493.3 349.1,492.5 349.0,490.0C348.9,487.5 348.5,483.3 348.0,480.0C347.5,476.7 346.3,473.3 346.0,470.0C345.7,466.7 345.8,463.3 346.0,460.0C346.2,456.7 346.7,453.3 347.0,450.0C347.3,446.7 347.6,443.3 348.0,440.0C348.4,436.7 349.0,433.3 349.4,430.0C349.8,426.7 350.2,423.3 350.6,420.0C351.0,416.7 351.7,413.3 352.0,410.0C352.3,406.7 352.4,405.0 352.6,400.0C352.8,395.0 353.3,386.7 353.4,380.0C353.5,373.3 353.1,365.0 353.0,360.0C352.9,355.0 352.9,353.3 353.0,350.0C353.1,346.7 353.1,343.3 353.4,340.0C353.7,336.7 354.2,333.3 354.6,330.0C355.0,326.7 355.5,323.3 356.0,320.0C356.5,316.7 357.1,313.3 357.4,310.0C357.6,306.7 357.2,303.3 357.5,300.0C357.8,296.7 358.6,293.3 359.4,290.0C360.1,286.7 361.1,283.3 362.0,280.0C362.9,276.7 363.7,273.3 364.6,270.0C365.5,266.7 366.5,263.3 367.4,260.0C368.3,256.7 369.2,253.3 370.0,250.0C370.8,246.7 371.4,243.3 372.0,240.0C372.6,236.7 373.0,233.3 373.4,230.0C373.8,226.7 374.2,225.0 374.6,220.0C375.0,215.0 375.5,206.7 375.9,200.0C376.3,193.3 376.7,186.7 376.8,180.0C376.8,173.3 376.6,166.7 376.3,160.0C376.1,153.3 375.7,146.7 375.3,140.0C374.8,133.3 374.4,126.7 373.8,120.0C373.2,113.3 372.2,106.7 371.5,100.0C370.7,93.3 370.1,86.7 369.5,80.0C369.0,73.3 368.5,66.7 368.0,60.0C367.4,53.3 366.5,43.3 366.2,40.0C365.6,32.4 364.6,14.4 364.6,14.4L364.3,5.0L297.0,5.0Z" fill="#00b8ff" />
<path d="M303.0,5.0L303.0,14.4C303.0,14.4 301.6,24.1 300.6,30.0C300.0,33.3 298.1,43.3 297.0,50.0C295.9,56.7 295.0,63.3 294.3,70.0C293.6,76.7 293.2,85.0 292.7,90.0C292.2,95.0 291.9,96.7 291.5,100.0C291.1,103.3 290.8,106.7 290.3,110.0C289.9,113.3 289.4,115.0 288.7,120.0C288.1,125.0 287.1,133.3 286.6,140.0C286.0,146.7 285.7,153.3 285.4,160.0C285.1,166.7 284.9,173.3 284.7,180.0C284.6,186.7 284.6,195.0 284.6,200.0C284.6,205.0 284.8,206.7 285.0,210.0C285.2,213.3 285.6,216.7 286.0,220.0C286.4,223.3 286.8,226.7 287.4,230.0C288.0,233.3 288.6,236.7 289.4,240.0C290.2,243.3 291.1,246.7 292.0,250.0C292.9,253.3 293.8,256.7 294.6,260.0C295.4,263.3 296.2,266.7 297.0,270.0C297.8,273.3 298.6,276.7 299.4,280.0C300.2,283.3 301.4,286.7 302.0,290.0C302.6,293.3 302.7,296.7 303.0,300.0C303.3,303.3 303.4,306.7 304.0,310.0C304.6,313.3 305.7,316.7 306.6,320.0C307.5,323.3 308.4,326.7 309.4,330.0C310.4,333.3 311.7,336.7 312.6,340.0C313.5,343.3 314.3,346.7 315.0,350.0C315.7,353.3 316.4,355.0 316.6,360.0C316.8,365.0 316.4,373.3 316.0,380.0C315.6,386.7 314.7,395.0 314.0,400.0C313.3,405.0 312.5,406.7 312.0,410.0C311.5,413.3 311.0,417.5 311.0,420.0C311.0,422.5 311.7,423.3 312.0,425.0C312.3,426.7 312.5,427.5 313.0,430.0C313.5,432.5 314.2,436.7 315.0,440.0C315.8,443.3 316.8,447.7 317.5,450.0C318.2,452.3 318.3,454.0 319.0,454.0C319.7,454.0 320.8,452.3 321.5,450.0C322.2,447.7 322.8,443.3 323.0,440.0C323.2,436.7 323.3,433.3 323.0,430.0C322.7,426.7 321.9,423.3 321.4,420.0C320.9,416.7 320.2,413.3 320.0,410.0C319.8,406.7 319.8,405.0 320.0,400.0C320.2,395.0 320.7,386.7 321.0,380.0C321.3,373.3 321.8,366.7 322.0,360.0C322.2,353.3 321.9,346.7 322.0,340.0C322.1,333.3 322.3,326.7 322.5,320.0C322.7,313.3 322.8,306.7 323.0,300.0C323.2,293.3 323.7,285.0 324.0,280.0C324.3,275.0 324.3,273.3 324.6,270.0C324.9,266.7 325.6,263.2 326.0,260.0C326.4,256.8 326.9,252.7 327.3,250.5C327.7,248.3 328.2,247.0 328.6,247.0C329.1,247.0 329.5,248.3 330.0,250.5C330.5,252.7 330.9,256.8 331.4,260.0C331.9,263.2 332.5,266.7 333.0,270.0C333.5,273.3 334.0,276.7 334.6,280.0C335.2,283.3 335.9,286.7 336.6,290.0C337.3,293.3 338.4,295.0 338.6,300.0C338.8,305.0 338.2,313.3 338.0,320.0C337.8,326.7 337.6,333.3 337.4,340.0C337.2,346.7 336.8,353.3 336.6,360.0C336.4,366.7 336.0,373.3 336.0,380.0C336.0,386.7 336.2,393.3 336.5,400.0C336.8,406.7 337.6,413.3 338.0,420.0C338.4,426.7 338.7,435.0 339.0,440.0C339.3,445.0 339.5,446.0 340.0,450.0C340.5,454.0 341.4,462.3 342.0,464.0C342.6,465.7 343.1,462.3 343.5,460.0C343.9,457.7 344.3,453.3 344.6,450.0C344.9,446.7 345.0,445.0 345.4,440.0C345.8,435.0 346.4,426.7 347.0,420.0C347.6,413.3 348.7,406.7 349.0,400.0C349.3,393.3 349.2,385.0 349.0,380.0C348.8,375.0 347.8,373.3 347.5,370.0C347.2,366.7 347.1,365.0 347.0,360.0C346.9,355.0 346.8,345.0 347.0,340.0C347.2,335.0 347.6,333.3 348.0,330.0C348.4,326.7 349.1,323.3 349.4,320.0C349.7,316.7 349.6,313.3 350.0,310.0C350.4,306.7 351.2,303.3 352.0,300.0C352.8,296.7 353.8,293.3 354.6,290.0C355.4,286.7 356.1,283.3 357.0,280.0C357.9,276.7 359.0,273.3 360.0,270.0C361.0,266.7 362.1,263.3 363.0,260.0C363.9,256.7 364.7,253.3 365.4,250.0C366.1,246.7 366.8,243.3 367.4,240.0C368.0,236.7 368.5,233.3 369.0,230.0C369.5,226.7 369.6,225.0 370.2,220.0C370.8,215.0 372.1,206.7 372.5,200.0C372.9,193.3 372.8,186.7 372.7,180.0C372.6,173.3 372.4,166.7 372.1,160.0C371.8,153.3 371.3,146.7 370.8,140.0C370.4,133.3 369.9,126.7 369.2,120.0C368.5,113.3 367.5,106.7 366.6,100.0C365.8,93.3 365.0,86.7 364.3,80.0C363.6,73.3 363.1,66.7 362.6,60.0C362.0,53.3 361.2,43.3 360.9,40.0C360.3,32.4 358.9,14.4 358.9,14.4L358.8,5.0L303.0,5.0Z" fill="#00f8ee" />
<ellipse cx="317" cy="484" rx="3.6" ry="9.5" fill="#00f8ee"/>
<ellipse cx="345" cy="484" rx="2.0" ry="10" fill="#00f8ee"/>
<path d="M306.9,5.0L306.8,14.4C306.8,14.4 305.5,24.1 304.6,30.0C304.1,33.3 302.3,43.3 301.4,50.0C300.5,56.7 299.8,63.3 299.3,70.0C298.8,76.7 298.6,85.0 298.3,90.0C298.0,95.0 298.1,96.7 297.7,100.0C297.3,103.3 296.7,106.7 296.1,110.0C295.4,113.3 294.8,115.0 294.0,120.0C293.2,125.0 291.9,133.3 291.1,140.0C290.4,146.7 289.8,153.3 289.4,160.0C288.9,166.7 288.5,173.3 288.2,180.0C288.0,186.7 287.9,195.0 288.0,200.0C288.1,205.0 288.3,206.7 288.6,210.0C288.9,213.3 289.4,216.7 290.0,220.0C290.6,223.3 291.2,226.7 292.0,230.0C292.8,233.3 293.7,236.7 294.6,240.0C295.5,243.3 296.4,246.7 297.4,250.0C298.4,253.3 299.5,256.7 300.6,260.0C301.7,263.3 302.9,266.7 304.0,270.0C305.1,273.3 306.2,276.7 307.0,280.0C307.8,283.3 308.5,286.7 309.0,290.0C309.5,293.3 309.5,296.7 310.0,300.0C310.5,303.3 311.3,306.7 312.0,310.0C312.7,313.3 313.3,316.7 314.0,320.0C314.7,323.3 315.3,326.7 316.0,330.0C316.7,333.3 317.4,336.7 318.0,340.0C318.6,343.3 318.9,350.0 319.5,350.0C320.1,350.0 321.1,345.0 321.4,340.0C321.7,335.0 321.4,326.7 321.4,320.0C321.4,313.3 321.6,305.0 321.4,300.0C321.2,295.0 320.1,293.3 320.0,290.0C319.9,286.7 320.4,283.3 320.6,280.0C320.8,276.7 321.0,273.3 321.4,270.0C321.8,266.7 322.4,263.3 323.0,260.0C323.6,256.7 324.4,253.0 325.0,250.0C325.6,247.0 326.2,243.8 326.8,242.0C327.4,240.1 328.0,239.0 328.6,239.0C329.2,239.0 329.7,240.1 330.3,242.0C330.9,243.8 331.4,247.0 332.0,250.0C332.6,253.0 333.3,256.7 334.0,260.0C334.7,263.3 335.2,266.7 336.0,270.0C336.8,273.3 337.8,276.7 338.6,280.0C339.4,283.3 340.3,287.8 341.0,290.0C341.7,292.2 342.3,292.3 343.0,292.9C343.7,293.6 344.2,294.0 345.0,294.0C345.8,294.0 346.7,293.6 347.5,292.9C348.3,292.3 349.2,292.2 350.0,290.0C350.8,287.8 351.2,283.3 352.0,280.0C352.8,276.7 354.0,273.3 355.0,270.0C356.0,266.7 357.0,263.3 358.0,260.0C359.0,256.7 360.1,253.3 361.0,250.0C361.9,246.7 362.7,243.3 363.4,240.0C364.1,236.7 364.5,233.3 365.0,230.0C365.5,226.7 366.0,225.0 366.6,220.0C367.2,215.0 368.2,206.7 368.6,200.0C369.0,193.3 368.9,186.7 368.8,180.0C368.8,173.3 368.6,166.7 368.3,160.0C368.0,153.3 367.6,146.7 367.1,140.0C366.6,133.3 365.9,126.7 365.2,120.0C364.4,113.3 363.5,106.7 362.6,100.0C361.7,93.3 360.7,86.7 360.0,80.0C359.3,73.3 359.0,66.7 358.4,60.0C357.9,53.3 357.2,43.3 356.9,40.0C356.4,32.4 355.5,14.4 355.5,14.4L355.5,5.0L306.9,5.0Z" fill="#00ff8a" />
<path d="M339.0,345.0C338.2,347.0 337.4,354.2 337.0,360.0C336.6,365.8 336.3,373.3 336.3,380.0C336.3,386.7 336.6,393.3 337.0,400.0C337.4,406.7 338.2,413.3 338.6,420.0C339.0,426.7 339.0,434.7 339.4,440.0C339.8,445.3 340.5,451.2 341.0,452.0C341.5,452.8 342.0,447.0 342.5,445.0C343.0,443.0 343.5,444.2 344.0,440.0C344.5,435.8 344.9,426.7 345.4,420.0C345.9,413.3 346.9,405.0 347.0,400.0C347.1,395.0 346.3,393.3 346.0,390.0C345.7,386.7 345.4,385.0 345.0,380.0C344.6,375.0 344.0,365.3 343.4,360.0C342.8,354.7 342.2,350.5 341.5,348.0C340.8,345.5 339.8,343.0 339.0,345.0Z" fill="#00ff8a" />
<ellipse cx="318" cy="388" rx="2" ry="8" fill="#00ff8a"/>
<ellipse cx="320" cy="441" rx="2.8" ry="11" fill="#00ff8a"/>
<path d="M314.3,5.0L314.3,14.4C314.3,14.4 313.1,24.1 312.3,30.0C311.8,33.3 310.1,43.3 309.3,50.0C308.5,56.7 307.9,63.3 307.3,70.0C306.8,76.7 306.3,85.0 305.9,90.0C305.5,95.0 305.3,96.7 304.7,100.0C304.1,103.3 303.3,106.7 302.6,110.0C301.8,113.3 301.1,115.0 300.0,120.0C298.9,125.0 297.2,133.3 296.1,140.0C295.1,146.7 294.4,153.3 293.8,160.0C293.1,166.7 292.4,173.3 292.2,180.0C292.1,186.7 292.4,195.0 292.6,200.0C292.8,205.0 293.0,206.7 293.4,210.0C293.8,213.3 294.3,216.7 295.0,220.0C295.7,223.3 296.4,226.7 297.4,230.0C298.4,233.3 299.7,236.7 301.0,240.0C302.3,243.3 303.5,246.7 305.0,250.0C306.5,253.3 308.8,257.2 310.0,260.0C311.2,262.8 311.7,265.1 312.5,266.6C313.3,268.1 314.2,269.0 315.0,269.0C315.8,269.0 316.7,268.1 317.5,266.6C318.3,265.1 319.2,262.8 320.0,260.0C320.8,257.2 321.3,253.3 322.0,250.0C322.7,246.7 323.3,243.1 324.0,240.0C324.7,236.9 325.5,233.2 326.3,231.2C327.1,229.2 327.8,228.0 328.6,228.0C329.4,228.0 330.2,229.2 331.0,231.2C331.8,233.2 332.4,236.9 333.4,240.0C334.4,243.1 335.9,247.2 337.0,250.0C338.1,252.8 339.0,255.1 340.0,256.6C341.0,258.1 341.7,259.0 343.0,259.0C344.3,259.0 346.3,258.1 348.0,256.6C349.7,255.1 351.6,252.8 353.0,250.0C354.4,247.2 355.6,243.3 356.6,240.0C357.6,236.7 358.3,233.3 359.0,230.0C359.7,226.7 360.5,223.3 361.0,220.0C361.5,216.7 361.5,213.3 362.0,210.0C362.5,206.7 363.4,205.0 363.8,200.0C364.2,195.0 364.4,186.7 364.5,180.0C364.6,173.3 364.6,166.7 364.3,160.0C364.0,153.3 363.5,146.7 362.9,140.0C362.3,133.3 361.7,126.7 360.9,120.0C360.1,113.3 359.0,105.0 358.1,100.0C357.2,95.0 356.5,95.0 355.7,90.0C354.9,85.0 354.1,76.7 353.5,70.0C352.8,63.3 352.4,56.7 351.8,50.0C351.2,43.3 350.3,33.3 350.0,30.0C349.5,24.1 348.8,14.4 348.8,14.4L348.9,5.0L314.3,5.0Z" fill="#32ff00" />
<path d="M316.0,292.0C315.1,292.3 313.8,295.7 313.5,298.0C313.2,300.3 313.6,302.3 314.0,306.0C314.4,309.7 315.3,316.3 316.0,320.0C316.7,323.7 317.4,325.7 318.0,328.0C318.6,330.3 319.0,334.0 319.4,334.0C319.8,334.0 320.2,330.3 320.4,328.0C320.6,325.7 320.7,323.7 320.6,320.0C320.5,316.3 320.3,310.0 320.0,306.0C319.7,302.0 319.7,298.3 319.0,296.0C318.3,293.7 316.9,291.7 316.0,292.0Z" fill="#32ff00" />
<ellipse cx="318" cy="390" rx="1.2" ry="6" fill="#32ff00"/>
<ellipse cx="320" cy="443" rx="1.8" ry="7" fill="#32ff00"/>
<ellipse cx="320" cy="445" rx="0.9" ry="2.5" fill="#aaff00"/>
<ellipse cx="339.2" cy="380" rx="2.8" ry="21" fill="#32ff00"/>
<ellipse cx="339.2" cy="380" rx="1.5" ry="14" fill="#aaff00"/>
<path d="M344.0,393.0C343.2,393.8 341.8,397.2 341.0,400.0C340.2,402.8 339.8,406.7 339.5,410.0C339.2,413.3 339.0,416.7 339.0,420.0C339.0,423.3 339.5,426.7 339.6,430.0C339.7,433.3 339.4,436.7 339.6,440.0C339.8,443.3 340.5,450.0 341.0,450.0C341.5,450.0 342.3,443.3 342.6,440.0C342.9,436.7 342.9,433.3 343.0,430.0C343.1,426.7 342.9,423.3 343.2,420.0C343.5,416.7 344.1,413.3 344.6,410.0C345.1,406.7 345.8,402.5 346.0,400.0C346.2,397.5 346.3,396.2 346.0,395.0C345.7,393.8 344.8,392.2 344.0,393.0Z" fill="#32ff00" />
<path d="M343.5,398.0C342.9,398.8 342.1,402.2 341.5,405.0C340.9,407.8 340.2,412.3 340.0,415.0C339.8,417.7 340.2,420.8 340.5,421.0C340.8,421.2 341.5,418.2 342.0,416.0C342.5,413.8 343.0,410.7 343.5,408.0C344.0,405.3 345.0,401.7 345.0,400.0C345.0,398.3 344.1,397.2 343.5,398.0Z" fill="#aaff00" />
<ellipse cx="341.2" cy="440" rx="1.0" ry="6" fill="#aaff00"/>
<path d="M320.3,5.0L320.3,14.4C320.3,14.4 319.1,24.1 318.3,30.0C317.8,33.3 316.1,43.3 315.3,50.0C314.5,56.7 313.9,63.3 313.3,70.0C312.8,76.7 312.3,85.0 311.9,90.0C311.5,95.0 311.3,96.7 310.7,100.0C310.1,103.3 308.9,106.7 308.1,110.0C307.2,113.3 306.6,115.0 305.4,120.0C304.3,125.0 302.4,133.3 301.1,140.0C299.9,146.7 298.9,153.3 298.1,160.0C297.4,166.7 297.0,173.3 296.9,180.0C296.7,186.7 297.1,195.0 297.4,200.0C297.7,205.0 298.1,206.7 298.6,210.0C299.1,213.3 299.7,216.7 300.6,220.0C301.5,223.3 302.6,226.7 304.0,230.0C305.4,233.3 307.7,237.5 309.0,240.0C310.3,242.5 311.0,243.9 312.0,245.1C313.0,246.3 314.0,247.0 315.0,247.0C316.0,247.0 316.9,246.3 317.8,245.1C318.7,243.9 319.7,242.5 320.6,240.0C321.5,237.5 322.1,233.1 323.0,230.0C323.9,226.9 324.9,223.2 325.8,221.2C326.7,219.2 327.6,218.0 328.6,218.0C329.6,218.0 330.6,219.2 331.6,221.2C332.6,223.2 333.2,226.9 334.6,230.0C336.0,233.1 338.8,238.0 340.0,240.0C341.2,242.0 341.3,241.7 342.0,242.2C342.7,242.7 343.2,243.1 344.0,243.0C344.8,242.9 346.0,242.5 347.0,241.7C348.0,240.8 348.8,239.9 350.0,238.0C351.2,236.1 353.0,233.0 354.0,230.0C355.0,227.0 355.4,223.3 356.0,220.0C356.6,216.7 357.0,213.3 357.4,210.0C357.8,206.7 358.2,205.0 358.5,200.0C358.8,195.0 359.2,186.7 359.2,180.0C359.3,173.3 359.2,166.7 358.9,160.0C358.6,153.3 357.9,146.7 357.2,140.0C356.4,133.3 355.5,126.7 354.4,120.0C353.4,113.3 351.6,105.0 350.7,100.0C349.8,95.0 349.9,95.0 349.3,90.0C348.7,85.0 347.9,76.7 347.3,70.0C346.7,63.3 346.2,56.7 345.6,50.0C345.0,43.3 343.9,33.3 343.6,30.0C342.9,24.1 341.6,14.4 341.6,14.4L341.6,5.0L320.3,5.0Z" fill="#aaff00" />
<path d="M330.4,27.3C329.8,27.3 329.2,28.4 328.7,29.3C328.2,30.2 327.8,31.2 327.3,33.0C326.9,34.8 326.5,37.2 326.0,40.0C325.5,42.8 324.9,46.7 324.4,50.0C323.9,53.3 323.4,55.0 322.7,60.0C322.0,65.0 321.1,73.3 320.3,80.0C319.5,86.7 319.1,95.0 318.1,100.0C317.1,105.0 315.7,106.7 314.6,110.0C313.4,113.3 312.8,115.0 311.4,120.0C310.0,125.0 307.6,133.3 306.1,140.0C304.7,146.7 303.6,153.3 302.8,160.0C301.9,166.7 301.3,173.3 301.2,180.0C301.2,186.7 302.0,195.0 302.6,200.0C303.2,205.0 303.7,206.7 304.6,210.0C305.5,213.3 306.9,217.4 308.0,220.0C309.1,222.6 310.0,224.5 311.0,225.8C312.0,227.2 312.9,228.0 314.0,228.0C315.1,228.0 316.2,227.2 317.3,225.8C318.4,224.5 319.5,222.1 320.6,220.0C321.7,217.9 323.1,214.8 324.0,213.0C324.9,211.2 325.3,209.9 326.0,209.0C326.7,208.1 327.2,207.5 328.0,207.5C328.8,207.5 329.7,208.0 330.5,208.7C331.3,209.5 331.9,210.1 333.0,212.0C334.1,213.9 335.8,218.1 337.0,220.0C338.2,221.9 339.0,222.8 340.0,223.7C341.0,224.5 341.9,225.0 343.0,225.0C344.1,225.0 345.3,224.5 346.5,223.7C347.7,222.8 349.1,222.3 350.0,220.0C350.9,217.7 351.4,213.3 352.0,210.0C352.6,206.7 353.5,205.0 353.9,200.0C354.3,195.0 354.6,186.7 354.6,180.0C354.7,173.3 354.5,166.7 354.3,160.0C354.1,153.3 353.8,146.7 353.2,140.0C352.5,133.3 351.6,126.7 350.4,120.0C349.3,113.3 347.5,106.7 346.3,100.0C345.1,93.3 344.1,86.7 343.1,80.0C342.2,73.3 341.5,65.0 340.5,60.0C339.6,55.0 338.5,53.3 337.6,50.0C336.8,46.7 336.0,42.8 335.4,40.0C334.8,37.2 334.3,34.8 333.8,33.0C333.3,31.2 332.9,30.2 332.3,29.3C331.8,28.4 331.0,27.3 330.4,27.3Z" fill="#ffff00" />
<path d="M331.0,60.5C330.7,60.0 330.3,59.6 330.0,59.6C329.7,59.6 329.4,60.0 329.0,60.5C328.7,61.1 328.6,61.4 328.1,63.0C327.6,64.6 327.0,65.5 326.2,70.0C325.4,74.5 324.2,85.0 323.3,90.0C322.4,95.0 321.7,96.7 320.9,100.0C320.1,103.3 319.2,106.7 318.3,110.0C317.5,113.3 316.9,115.0 315.7,120.0C314.6,125.0 312.8,133.3 311.6,140.0C310.4,146.7 309.0,153.3 308.4,160.0C307.8,166.7 307.9,175.0 308.1,180.0C308.3,185.0 308.8,186.7 309.4,190.0C310.0,193.3 311.2,197.5 312.0,200.0C312.8,202.5 313.3,203.9 314.0,205.1C314.7,206.3 315.2,206.9 316.0,207.0C316.8,207.1 317.7,206.6 318.5,205.9C319.3,205.3 320.0,204.2 321.0,203.0C322.0,201.8 323.7,200.0 324.5,199.0C325.3,198.0 325.5,197.3 325.9,196.8C326.4,196.3 326.9,196.1 327.4,196.0C327.9,195.9 328.6,196.1 329.2,196.3C329.8,196.4 330.0,196.5 331.0,197.0C332.0,197.5 334.0,198.8 335.0,199.5C336.0,200.2 336.5,200.6 337.2,201.0C338.0,201.3 338.8,201.7 339.5,201.5C340.2,201.3 340.8,200.9 341.5,200.0C342.2,199.1 342.9,197.7 343.5,196.0C344.1,194.3 344.6,192.7 345.0,190.0C345.4,187.3 345.7,185.0 346.0,180.0C346.3,175.0 346.6,166.7 346.6,160.0C346.6,153.3 346.4,146.7 346.0,140.0C345.6,133.3 344.6,125.0 344.0,120.0C343.4,115.0 343.2,113.3 342.6,110.0C342.0,106.7 341.4,103.3 340.6,100.0C339.8,96.7 339.0,95.0 338.0,90.0C337.0,85.0 335.6,74.5 334.6,70.0C333.6,65.5 332.6,64.6 332.0,63.0C331.4,61.4 331.3,61.1 331.0,60.5Z" fill="#ffa500" />
<path d="M330.2,95.8C329.9,95.3 329.7,95.0 329.4,95.0C329.1,95.0 328.8,95.3 328.4,95.8C328.1,96.3 328.1,97.0 327.5,98.0C326.9,99.0 325.8,100.0 325.0,102.0C324.2,104.0 323.7,107.0 323.0,110.0C322.3,113.0 321.5,115.0 320.6,120.0C319.7,125.0 318.2,133.3 317.4,140.0C316.6,146.7 316.1,155.0 316.0,160.0C315.9,165.0 316.3,167.6 316.6,170.0C316.9,172.4 317.4,173.4 318.0,174.5C318.6,175.6 318.5,175.9 320.0,176.5C321.5,177.1 324.8,177.9 327.0,178.0C329.2,178.1 331.4,177.7 333.0,177.0C334.6,176.3 335.7,175.5 336.5,174.0C337.3,172.5 337.6,170.3 338.0,168.0C338.4,165.7 338.5,164.7 338.6,160.0C338.7,155.3 338.9,146.7 338.6,140.0C338.3,133.3 337.2,125.0 336.6,120.0C336.0,115.0 335.6,113.0 335.0,110.0C334.4,107.0 333.7,104.0 333.0,102.0C332.3,100.0 331.5,99.0 331.0,98.0C330.5,97.0 330.5,96.3 330.2,95.8Z" fill="#ff4500" />
<path d="M317.0,508.0C316.7,508.7 316.5,512.2 316.2,514.0C315.9,515.8 315.9,517.7 315.0,519.0C314.1,520.3 312.1,520.8 311.0,522.0C309.9,523.2 308.9,524.5 308.5,526.0C308.1,527.5 308.2,529.3 308.5,531.0C308.8,532.7 309.4,535.3 310.0,536.0C310.6,536.7 311.5,536.0 312.0,535.0C312.5,534.0 312.4,531.5 313.0,530.0C313.6,528.5 314.7,527.3 315.5,526.0C316.3,524.7 317.5,523.7 318.0,522.0C318.5,520.3 318.5,518.0 318.5,516.0C318.5,514.0 318.2,511.3 318.0,510.0C317.8,508.7 317.3,507.3 317.0,508.0Z" fill="#00b8ff" />
<path d="M344.0,508.0C343.6,508.8 343.0,512.2 343.0,514.0C343.0,515.8 343.5,517.7 344.0,519.0C344.5,520.3 345.2,520.8 346.0,522.0C346.8,523.2 347.8,524.5 348.5,526.0C349.2,527.5 349.7,529.3 350.0,531.0C350.3,532.7 350.1,535.7 350.5,536.0C350.9,536.3 352.2,534.5 352.5,533.0C352.8,531.5 352.8,528.8 352.5,527.0C352.2,525.2 351.3,523.5 350.5,522.0C349.7,520.5 348.2,519.5 347.5,518.0C346.8,516.5 346.3,514.5 346.0,513.0C345.7,511.5 345.8,509.8 345.5,509.0C345.2,508.2 344.4,507.2 344.0,508.0Z" fill="#00b8ff" />
</g></g>
<g clip-path="url(#c3)">
<rect x="432.2" y="12.7" width="97.40000000000003" height="537.3" fill="#0055ff"/>
<g filter="url(#bl)">
<path d="M432.0,103.0C432.0,103.0 436.0,100.9 438.0,100.0C439.0,99.6 442.0,98.0 444.0,97.5C446.0,97.0 448.5,96.6 450.0,97.0C451.5,97.4 452.0,97.8 453.0,100.0C454.0,102.2 455.0,106.7 456.0,110.0C457.0,113.3 458.1,116.7 459.0,120.0C459.9,123.3 460.6,126.7 461.4,130.0C462.2,133.3 463.1,136.7 464.0,140.0C464.9,143.3 466.0,147.3 467.0,150.0C468.0,152.7 468.8,154.2 470.0,156.0C471.2,157.8 472.5,159.8 474.0,161.0C475.5,162.2 477.3,162.8 479.0,163.0C480.7,163.2 482.3,163.0 484.0,162.5C485.7,162.0 487.3,161.2 489.0,160.0C490.7,158.8 492.3,157.2 494.0,155.5C495.7,153.8 497.2,152.6 499.0,150.0C500.8,147.4 503.0,143.3 505.0,140.0C507.0,136.7 508.7,133.3 511.0,130.0C513.3,126.7 516.8,122.3 519.0,120.0C521.2,117.7 523.2,116.7 524.0,116.0C525.7,114.8 529.0,113.0 529.0,113.0L531.0,113.0L531.0,319.0C531.0,319.0 528.4,318.3 527.4,319.0C527.0,319.7 526.1,321.7 525.0,323.0C523.9,324.3 523.3,326.2 521.0,327.0C518.7,327.8 514.3,327.3 511.0,328.0C507.7,328.7 503.7,329.3 501.0,331.0C498.3,332.7 496.4,335.5 495.0,338.0C493.6,340.5 493.3,344.2 492.5,346.0C491.7,347.9 490.8,348.7 490.0,349.0C489.2,349.3 488.3,348.5 487.5,347.6C486.7,346.8 486.8,345.6 485.0,344.0C483.2,342.4 479.3,340.3 477.0,338.0C474.7,335.7 473.0,333.0 471.0,330.0C469.0,327.0 467.7,322.6 465.0,320.0C462.3,317.4 458.3,315.9 455.0,314.5C451.7,313.1 448.4,312.9 445.0,311.5C441.6,310.1 436.2,306.9 434.4,306.0C432.2,305.0 432.0,305.5 432.0,305.5L432.0,103.0Z" fill="#14dcff" />
<path d="M432.0,107.7C432.0,107.7 436.0,107.8 438.0,108.0C439.0,108.2 442.4,108.3 444.0,109.0C445.6,109.7 446.5,110.8 447.5,112.0C448.5,113.2 449.2,114.3 450.0,116.0C450.8,117.7 451.4,119.2 452.0,122.0C452.6,124.8 453.1,129.3 453.5,133.0C453.9,136.7 454.3,140.3 454.6,144.0C454.9,147.7 455.1,151.3 455.4,155.0C455.7,158.7 455.9,162.4 456.3,166.0C456.7,169.6 457.1,171.9 458.0,176.4C458.9,180.9 460.7,188.0 462.0,192.8C463.3,197.6 464.9,201.6 466.0,205.0C467.1,208.4 467.4,210.4 468.5,213.0C469.6,215.6 471.1,218.7 472.5,220.5C473.9,222.3 475.5,223.8 477.0,223.8C478.5,223.8 480.1,222.3 481.5,220.5C482.9,218.7 484.1,215.6 485.5,213.0C486.9,210.4 487.5,208.4 489.6,205.0C491.7,201.6 495.2,197.6 498.2,192.8C501.2,188.0 504.3,181.9 507.4,176.4C510.5,170.9 514.1,164.4 517.0,160.0C519.9,155.6 523.7,151.7 525.0,150.0C527.0,147.5 529.0,145.0 529.0,145.0L531.0,145.0L531.0,309.0C531.0,309.0 528.4,308.5 527.4,309.0C527.0,309.5 527.1,310.7 525.0,312.0C522.9,313.3 518.3,315.7 515.0,317.0C511.7,318.3 508.0,319.0 505.0,320.0C502.0,321.0 499.3,322.3 497.0,323.0C494.7,323.7 493.0,325.1 491.0,324.0C489.0,322.9 487.7,319.1 485.0,316.5C482.3,313.9 478.3,311.0 475.0,308.5C471.7,306.0 468.3,303.3 465.0,301.5C461.7,299.7 458.3,298.6 455.0,297.5C451.7,296.4 448.4,295.4 445.0,295.2C441.6,295.0 436.2,296.3 434.4,296.5C432.2,296.7 432.0,296.5 432.0,296.5L432.0,107.7Z" fill="#00ffc6" />
<path d="M432.0,112.0C432.0,112.0 436.2,112.0 438.0,112.5C438.8,112.9 441.1,113.4 442.5,115.0C443.9,116.6 445.8,119.0 446.7,122.0C447.6,125.0 447.8,129.3 448.2,133.0C448.6,136.7 448.9,140.3 449.2,144.0C449.5,147.7 449.9,151.3 450.2,155.0C450.5,158.7 450.8,162.4 451.2,166.0C451.6,169.6 451.8,171.9 452.4,176.4C452.9,180.9 453.7,187.3 454.5,192.8C455.3,198.3 456.2,203.8 457.0,209.3C457.8,214.8 458.6,220.2 459.4,225.7C460.2,231.1 461.0,236.6 461.6,242.0C462.2,247.4 462.9,254.2 463.2,258.0C463.5,261.8 463.9,263.0 463.2,265.0C462.5,267.0 460.4,268.3 459.0,270.0C457.6,271.7 457.3,273.5 455.0,275.0C452.7,276.5 448.0,277.5 445.0,279.0C442.0,280.5 438.8,282.8 437.0,284.0C435.2,285.2 434.8,285.7 434.4,286.0C433.6,286.3 432.0,286.0 432.0,286.0L432.0,112.0Z" fill="#00f000" stroke="#00ff9c" stroke-width="4.4" stroke-linejoin="round" paint-order="stroke"/>
<path d="M531.0,164.0C531.0,164.0 528.8,163.9 527.4,166.0C526.6,167.7 525.0,171.9 522.5,176.4C520.0,180.9 515.5,187.3 512.6,192.8C509.7,198.3 507.5,203.8 505.2,209.3C502.9,214.8 500.9,220.2 498.7,225.7C496.5,231.1 493.9,236.6 492.0,242.0C490.1,247.4 488.3,253.3 487.0,258.0C485.7,262.7 484.8,266.3 484.4,270.0C484.0,273.7 484.1,276.7 484.8,280.0C485.4,283.3 486.6,286.7 488.1,290.0C489.7,293.3 492.2,297.3 494.0,300.0C495.8,302.7 497.7,304.8 499.0,306.0C500.3,307.2 500.0,307.0 502.0,307.0C504.0,307.0 508.2,306.7 511.0,306.0C513.8,305.3 516.7,304.3 519.0,303.0C521.3,301.7 523.6,299.2 525.0,298.0C526.4,296.8 527.0,296.3 527.4,296.0C528.4,295.5 531.0,295.0 531.0,295.0L531.0,164.0Z" fill="#00f000" stroke="#00ff9c" stroke-width="4.4" stroke-linejoin="round" paint-order="stroke"/>
<path d="M432.0,115.0C432.0,115.0 435.5,115.8 437.0,117.0C437.7,117.8 440.3,119.3 441.2,122.0C442.1,124.7 441.9,129.3 442.2,133.0C442.4,136.7 442.5,139.5 442.7,144.0C442.9,148.5 442.9,156.3 443.2,160.0C443.4,163.7 443.9,163.3 444.2,166.0C444.5,168.7 444.8,171.9 445.2,176.4C445.6,180.9 446.1,187.3 446.5,192.8C446.9,198.3 447.2,203.8 447.4,209.3C447.6,214.8 447.8,220.2 447.8,225.7C447.8,231.1 447.8,236.5 447.4,242.0C447.0,247.5 446.2,255.2 445.2,258.5C444.2,261.8 442.6,260.8 441.4,262.0C440.2,263.2 439.2,264.7 438.0,266.0C436.8,267.3 435.0,269.3 434.4,270.0C433.4,270.7 432.0,270.0 432.0,270.0L432.0,115.0Z" fill="#aaff00" />
<path d="M432.0,116.5C432.0,116.5 434.1,117.1 435.0,118.0C435.4,118.7 436.8,119.5 437.3,122.0C437.8,124.5 437.7,129.3 437.9,133.0C438.1,136.7 438.1,138.5 438.3,144.0C438.5,149.5 438.7,159.2 439.1,166.0C439.5,172.8 440.2,179.3 440.5,185.0C440.8,190.7 441.1,194.2 441.1,200.0C441.1,205.8 440.9,213.3 440.5,220.0C440.1,226.7 439.2,235.0 438.5,240.0C437.8,245.0 436.7,247.3 436.0,250.0C435.3,252.7 434.7,255.0 434.4,256.0C433.7,257.0 432.0,256.0 432.0,256.0L432.0,116.5Z" fill="#ffe600" />
<path d="M432.0,160.0C432.0,160.0 433.7,161.0 434.2,163.0C434.4,164.5 434.9,168.8 435.2,172.0C435.5,175.2 435.8,178.2 436.0,182.0C436.2,185.8 436.5,190.7 436.6,195.0C436.7,199.3 436.9,203.5 436.8,208.0C436.7,212.5 436.5,218.0 436.2,222.0C435.9,226.0 435.5,229.2 435.2,232.0C434.9,234.8 434.4,237.8 434.2,239.0C433.7,240.3 432.0,240.0 432.0,240.0L432.0,160.0Z" fill="#ffb400" />
<path d="M432.0,183.0C432.0,183.0 433.7,184.2 434.2,186.0C434.4,187.3 434.9,191.2 435.1,194.0C435.3,196.8 435.4,200.2 435.4,203.0C435.4,205.8 435.2,208.8 435.0,211.0C434.8,213.2 434.3,215.6 434.2,216.5C433.7,217.5 432.0,217.0 432.0,217.0L432.0,183.0Z" fill="#ff5000" />
<path d="M531.0,180.0C531.0,180.0 528.6,178.9 527.4,181.0C526.8,183.0 525.8,188.1 524.0,192.8C522.2,197.5 518.9,203.8 516.7,209.3C514.5,214.8 512.6,220.2 511.0,225.7C509.4,231.1 508.1,236.5 506.9,242.0C505.7,247.5 504.8,253.8 504.0,258.5C503.2,263.2 502.4,266.4 502.4,270.0C502.3,273.6 502.9,277.2 503.8,280.0C504.6,282.8 505.9,285.3 507.3,287.0C508.7,288.7 509.8,289.8 512.1,290.0C514.4,290.2 518.9,289.0 521.2,288.0C523.6,287.0 525.5,285.0 526.5,284.0C527.5,283.0 527.2,282.3 527.4,282.0C528.1,281.5 531.0,281.0 531.0,281.0L531.0,180.0Z" fill="#aaff00" />
<path d="M531.0,203.0C531.0,203.0 528.6,203.0 527.4,204.5C526.8,205.8 524.9,208.5 524.0,212.0C523.1,215.5 522.5,220.7 522.0,225.7C521.5,230.7 521.2,237.1 521.3,242.0C521.4,246.9 521.9,251.5 522.5,255.0C523.1,258.5 524.2,261.0 525.0,263.0C525.8,265.0 527.0,266.3 527.4,267.0C528.4,267.8 531.0,268.0 531.0,268.0L531.0,203.0Z" fill="#ffe600" />
<path d="M531.0,218.0C531.0,218.0 528.2,217.8 527.4,219.0C527.2,220.0 526.3,222.3 526.0,225.0C525.7,227.7 525.6,231.7 525.6,235.0C525.6,238.3 525.7,242.3 526.0,245.0C526.3,247.7 527.2,250.0 527.4,251.0C528.2,252.2 531.0,252.0 531.0,252.0L531.0,218.0Z" fill="#ffb400" />
<path d="M462.0,414.5C461.9,413.4 462.9,413.4 463.5,413.5C464.1,413.6 464.8,413.6 465.5,415.0C466.2,416.4 467.2,419.7 468.0,422.0C468.8,424.3 469.8,427.1 470.5,429.0C471.2,430.9 472.0,432.8 472.0,433.5C472.0,434.2 471.3,434.1 470.5,433.0C469.7,431.9 468.1,429.2 467.0,427.0C465.9,424.8 464.8,422.1 464.0,420.0C463.2,417.9 462.1,415.6 462.0,414.5Z" fill="#14dcff" />
<path d="M470.8,454.0C470.5,454.2 470.1,456.3 469.5,458.0C468.9,459.7 467.6,462.2 467.0,464.0C466.4,465.8 465.7,467.6 465.8,468.5C465.9,469.4 466.9,469.8 467.5,469.5C468.1,469.2 468.9,468.2 469.5,467.0C470.1,465.8 470.5,463.7 470.8,462.0C471.1,460.3 471.4,458.3 471.4,457.0C471.4,455.7 471.1,453.8 470.8,454.0Z" fill="#14dcff" />
<path d="M493.0,422.0C492.6,422.7 492.4,427.0 492.2,430.0C492.0,433.0 492.1,436.7 492.0,440.0C491.9,443.3 491.6,446.7 491.6,450.0C491.6,453.3 491.7,456.7 492.0,460.0C492.3,463.3 493.0,467.5 493.4,470.0C493.8,472.5 494.1,475.3 494.4,475.0C494.7,474.7 495.0,471.3 495.2,468.0C495.4,464.7 495.4,458.8 495.4,455.0C495.4,451.2 495.0,448.3 495.0,445.0C495.0,441.7 495.3,438.2 495.2,435.0C495.1,431.8 495.0,428.2 494.6,426.0C494.2,423.8 493.4,421.3 493.0,422.0Z" fill="#14dcff" />
<ellipse cx="494.2" cy="491.5" rx="0.9" ry="3.6" fill="#14dcff"/>
</g></g>
<rect x="165.85" y="536.6" width="1.1" height="11.7" fill="#e8eefc"/>
<rect x="203.45" y="536.6" width="1.1" height="11.7" fill="#e8eefc"/>
<rect x="311.05" y="536.6" width="1.1" height="11.7" fill="#e8eefc"/>
<rect x="348.45" y="536.6" width="1.1" height="11.7" fill="#e8eefc"/>
<rect x="461.85" y="536.6" width="1.1" height="11.7" fill="#e8eefc"/>
<rect x="498.45" y="536.6" width="1.1" height="11.7" fill="#e8eefc"/>
<line x1="283.1" x2="377.6" y1="522" y2="522" stroke="#0038c8" stroke-opacity="0.35" stroke-width="0.7" stroke-dasharray="6 3"/>
<line x1="434.2" x2="527.6" y1="522" y2="522" stroke="#0038c8" stroke-opacity="0.35" stroke-width="0.7" stroke-dasharray="6 3"/>
<path d="M156.5,566.3 Q157.9,564.3 159.3,566.3 L160.9,578.9 Q159.5,580.3 158.1,578.9Z" fill="#2a8432"/>
<path d="M172.0,556.9 Q173.4,554.9 174.8,556.9 L175.4,569.5 Q174.0,570.9 172.6,569.5Z" fill="#2a8432"/>
<path d="M193.8,556.9 Q195.2,554.9 196.6,556.9 L196.0,569.5 Q194.6,570.9 193.2,569.5Z" fill="#2a8432"/>
<path d="M209.3,566.3 Q210.7,564.3 212.1,566.3 L210.5,578.9 Q209.1,580.3 207.7,578.9Z" fill="#2a8432"/>
<path d="M160.5,582.2 A23.8,17.6 0 0 1 208.1,582.2 L208.1,588.2 A23.8,17.6 0 0 1 160.5,588.2Z" fill="#2b8734"/>
<ellipse cx="184.3" cy="582.2" rx="22.2" ry="16.5" fill="#1f6b29"/>
<clipPath id="h184"><ellipse cx="184.3" cy="582.2" rx="22.2" ry="16.5"/></clipPath>
<clipPath id="h184b"><ellipse cx="184.3" cy="588.2" rx="22.2" ry="16.5"/></clipPath>
<g clip-path="url(#h184)"><g clip-path="url(#h184b)">
<rect x="160.5" y="564.6" width="47.6" height="41.3" fill="#fff"/>
<path d="M183.9,586.6 L206.8,589.8 L204.6,594.6Z" fill="#48ba4e"/>
<path d="M183.9,586.6 L197.1,601.0 L191.0,603.2Z" fill="#48ba4e"/>
<path d="M183.9,586.6 L179.6,603.7 L173.2,602.1Z" fill="#48ba4e"/>
<path d="M183.9,586.6 L164.7,596.5 L161.7,592.0Z" fill="#7fe074"/>
<path d="M183.9,586.6 L161.0,583.5 L163.2,578.7Z" fill="#7fe074"/>
<path d="M183.9,586.6 L170.7,572.3 L176.8,570.1Z" fill="#48ba4e"/>
<path d="M183.9,586.6 L188.2,569.6 L194.6,571.2Z" fill="#48ba4e"/>
<path d="M183.9,586.6 L203.1,576.8 L206.1,581.3Z" fill="#48ba4e"/>
<circle cx="183.9" cy="586.6" r="1.6" fill="#48ba4e"/>
</g></g>
<path d="M209.3,582.0 Q210.7,580.0 212.1,582.0 L210.5,594.6 Q209.1,596.0 207.7,594.6Z" fill="#2a8432"/>
<path d="M193.8,594.9 Q195.2,592.9 196.6,594.9 L196.0,607.5 Q194.6,608.9 193.2,607.5Z" fill="#2a8432"/>
<path d="M172.0,594.9 Q173.4,592.9 174.8,594.9 L175.4,607.5 Q174.0,608.9 172.6,607.5Z" fill="#2a8432"/>
<path d="M156.5,582.0 Q157.9,580.0 159.3,582.0 L160.9,594.6 Q159.5,596.0 158.1,594.6Z" fill="#2a8432"/>
<path d="M303.6,567.4 Q305.0,565.4 306.4,567.4 L308.2,580.0 Q306.8,581.4 305.4,580.0Z" fill="#2a8432"/>
<path d="M310.8,559.3 Q312.2,557.3 313.6,559.3 L314.9,571.9 Q313.5,573.3 312.1,571.9Z" fill="#2a8432"/>
<path d="M323.2,555.1 Q324.6,553.1 326.0,555.1 L326.5,567.7 Q325.1,569.1 323.7,567.7Z" fill="#2a8432"/>
<path d="M337.6,555.1 Q339.0,553.1 340.4,555.1 L339.9,567.7 Q338.5,569.1 337.1,567.7Z" fill="#2a8432"/>
<path d="M350.0,559.3 Q351.4,557.3 352.8,559.3 L351.5,571.9 Q350.1,573.3 348.7,571.9Z" fill="#2a8432"/>
<path d="M357.2,567.4 Q358.6,565.4 360.0,567.4 L358.2,580.0 Q356.8,581.4 355.4,580.0Z" fill="#2a8432"/>
<path d="M308.9,581.0 A22.9,17.5 0 0 1 354.7,581.0 L354.7,587.0 A22.9,17.5 0 0 1 308.9,587.0Z" fill="#2b8734"/>
<ellipse cx="331.8" cy="581.0" rx="21.3" ry="16.4" fill="#1f6b29"/>
<clipPath id="h331"><ellipse cx="331.8" cy="581.0" rx="21.3" ry="16.4"/></clipPath>
<clipPath id="h331b"><ellipse cx="331.8" cy="587.0" rx="21.3" ry="16.4"/></clipPath>
<g clip-path="url(#h331)"><g clip-path="url(#h331b)">
<rect x="308.9" y="563.5" width="45.8" height="41.0" fill="#fff"/>
<path d="M331.4,585.4 L353.4,588.6 L351.3,593.3Z" fill="#48ba4e"/>
<path d="M331.4,585.4 L344.0,599.6 L338.2,601.8Z" fill="#48ba4e"/>
<path d="M331.4,585.4 L327.3,602.3 L321.2,600.7Z" fill="#48ba4e"/>
<path d="M331.4,585.4 L313.0,595.1 L310.1,590.7Z" fill="#7fe074"/>
<path d="M331.4,585.4 L309.4,582.2 L311.5,577.5Z" fill="#7fe074"/>
<path d="M331.4,585.4 L318.8,571.2 L324.6,569.0Z" fill="#48ba4e"/>
<path d="M331.4,585.4 L335.5,568.5 L341.6,570.1Z" fill="#48ba4e"/>
<path d="M331.4,585.4 L349.8,575.7 L352.7,580.1Z" fill="#48ba4e"/>
<circle cx="331.4" cy="585.4" r="1.6" fill="#48ba4e"/>
</g></g>
<path d="M357.2,577.9 Q358.6,575.9 360.0,577.9 L358.2,590.5 Q356.8,591.9 355.4,590.5Z" fill="#2a8432"/>
<path d="M350.0,588.2 Q351.4,586.2 352.8,588.2 L351.5,600.8 Q350.1,602.2 348.7,600.8Z" fill="#2a8432"/>
<path d="M337.6,594.5 Q339.0,592.5 340.4,594.5 L339.9,607.1 Q338.5,608.5 337.1,607.1Z" fill="#2a8432"/>
<path d="M323.2,594.5 Q324.6,592.5 326.0,594.5 L326.5,607.1 Q325.1,608.5 323.7,607.1Z" fill="#2a8432"/>
<path d="M310.8,588.2 Q312.2,586.2 313.6,588.2 L314.9,600.8 Q313.5,602.2 312.1,600.8Z" fill="#2a8432"/>
<path d="M303.6,577.9 Q305.0,575.9 306.4,577.9 L308.2,590.5 Q306.8,591.9 305.4,590.5Z" fill="#2a8432"/>
<path d="M449.5,570.2 Q450.9,568.2 452.3,570.2 L454.0,582.8 Q452.6,584.2 451.2,582.8Z" fill="#2a8432"/>
<path d="M453.8,563.6 Q455.2,561.6 456.6,563.6 L458.1,576.2 Q456.7,577.6 455.3,576.2Z" fill="#2a8432"/>
<path d="M461.7,558.9 Q463.1,556.9 464.5,558.9 L465.5,571.5 Q464.1,572.9 462.7,571.5Z" fill="#2a8432"/>
<path d="M472.1,556.6 Q473.5,554.6 474.9,556.6 L475.2,569.2 Q473.8,570.6 472.4,569.2Z" fill="#2a8432"/>
<path d="M483.3,556.6 Q484.7,554.6 486.1,556.6 L485.8,569.2 Q484.4,570.6 483.0,569.2Z" fill="#2a8432"/>
<path d="M493.7,558.9 Q495.1,556.9 496.5,558.9 L495.5,571.5 Q494.1,572.9 492.7,571.5Z" fill="#2a8432"/>
<path d="M501.6,563.6 Q503.0,561.6 504.4,563.6 L502.9,576.2 Q501.5,577.6 500.1,576.2Z" fill="#2a8432"/>
<path d="M505.9,570.2 Q507.3,568.2 508.7,570.2 L507.0,582.8 Q505.6,584.2 504.2,582.8Z" fill="#2a8432"/>
<path d="M455.1,582.6 A24.0,17.4 0 0 1 503.1,582.6 L503.1,588.6 A24.0,17.4 0 0 1 455.1,588.6Z" fill="#2b8734"/>
<ellipse cx="479.1" cy="582.6" rx="22.4" ry="16.3" fill="#1f6b29"/>
<clipPath id="h479"><ellipse cx="479.1" cy="582.6" rx="22.4" ry="16.3"/></clipPath>
<clipPath id="h479b"><ellipse cx="479.1" cy="588.6" rx="22.4" ry="16.3"/></clipPath>
<g clip-path="url(#h479)"><g clip-path="url(#h479b)">
<rect x="455.1" y="565.2" width="48.0" height="40.8" fill="#fff"/>
<path d="M478.7,587.0 L501.8,590.1 L499.6,594.8Z" fill="#48ba4e"/>
<path d="M478.7,587.0 L492.0,601.1 L485.9,603.3Z" fill="#48ba4e"/>
<path d="M478.7,587.0 L474.4,603.8 L467.9,602.2Z" fill="#48ba4e"/>
<path d="M478.7,587.0 L459.3,596.7 L456.3,592.2Z" fill="#7fe074"/>
<path d="M478.7,587.0 L455.6,583.9 L457.8,579.2Z" fill="#7fe074"/>
<path d="M478.7,587.0 L465.4,572.9 L471.5,570.7Z" fill="#48ba4e"/>
<path d="M478.7,587.0 L483.0,570.2 L489.5,571.8Z" fill="#48ba4e"/>
<path d="M478.7,587.0 L498.1,577.3 L501.1,581.8Z" fill="#48ba4e"/>
<circle cx="478.7" cy="587.0" r="1.6" fill="#48ba4e"/>
</g></g>
<path d="M505.9,578.2 Q507.3,576.2 508.7,578.2 L507.0,590.8 Q505.6,592.2 504.2,590.8Z" fill="#2a8432"/>
<path d="M501.6,586.1 Q503.0,584.1 504.4,586.1 L502.9,598.7 Q501.5,600.1 500.1,598.7Z" fill="#2a8432"/>
<path d="M493.7,592.7 Q495.1,590.7 496.5,592.7 L495.5,605.3 Q494.1,606.7 492.7,605.3Z" fill="#2a8432"/>
<path d="M483.3,596.4 Q484.7,594.4 486.1,596.4 L485.8,609.0 Q484.4,610.4 483.0,609.0Z" fill="#2a8432"/>
<path d="M472.1,596.4 Q473.5,594.4 474.9,596.4 L475.2,609.0 Q473.8,610.4 472.4,609.0Z" fill="#2a8432"/>
<path d="M461.7,592.7 Q463.1,590.7 464.5,592.7 L465.5,605.3 Q464.1,606.7 462.7,605.3Z" fill="#2a8432"/>
<path d="M453.8,586.1 Q455.2,584.1 456.6,586.1 L458.1,598.7 Q456.7,600.1 455.3,598.7Z" fill="#2a8432"/>
<path d="M449.5,578.2 Q450.9,576.2 452.3,578.2 L454.0,590.8 Q452.6,592.2 451.2,590.8Z" fill="#2a8432"/>
<text x="222.7" y="596.0" font-size="24.3">8</text>
<text x="360.3" y="593.0" font-size="24.3">12</text>
<text x="513.5" y="590.7" font-size="24.3">16</text>
</svg></body></html>
